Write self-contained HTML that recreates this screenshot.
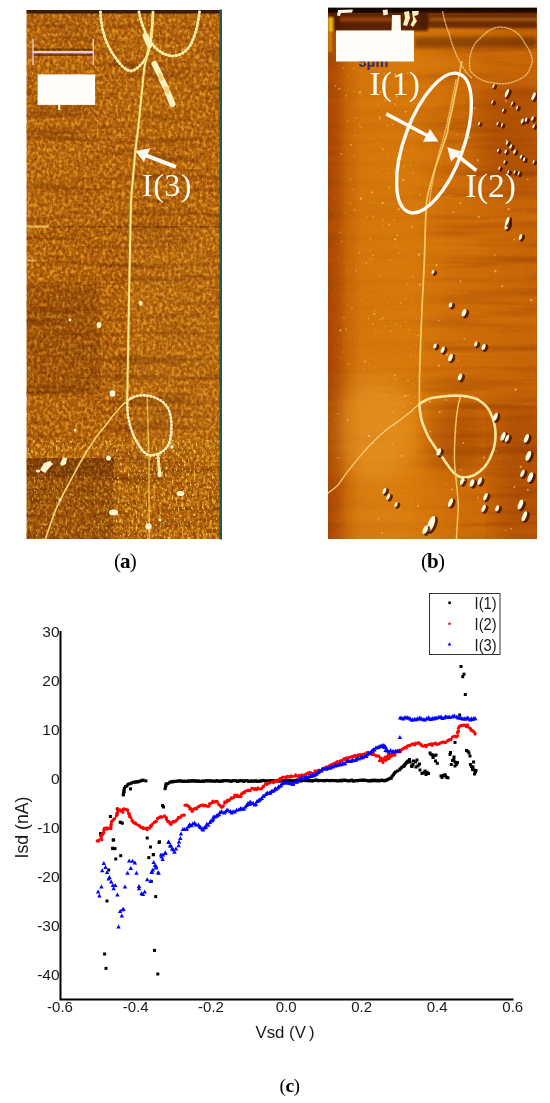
<!DOCTYPE html>
<html><head><meta charset="utf-8">
<style>
html,body{margin:0;padding:0;background:#fff;}
body{width:550px;height:1103px;overflow:hidden;position:relative;}
svg{position:absolute;left:0;top:0;display:block;}
.ser{font-family:"Liberation Serif",serif;}
.sans{font-family:"Liberation Sans",Arial,sans-serif;}
</style></head><body>
<svg width="550" height="1103" viewBox="0 0 550 1103">
<defs>
  <filter id="grainA" color-interpolation-filters="sRGB" x="0" y="0" width="100%" height="100%">
    <feTurbulence type="fractalNoise" baseFrequency="0.32 0.27" numOctaves="2" seed="3" result="n"/>
    <feColorMatrix in="n" type="matrix" values="0 0 0 0 0.88  0 0 0 0 0.58  0 0 0 0 0.13  3.0 0 0 0 -1.25" result="c"/>
    <feGaussianBlur in="c" stdDeviation="0.6"/>
  </filter>
  <filter id="grainA2" color-interpolation-filters="sRGB" x="0" y="0" width="100%" height="100%">
    <feTurbulence type="fractalNoise" baseFrequency="0.35 0.28" numOctaves="2" seed="11" result="n"/>
    <feColorMatrix in="n" type="matrix" values="0 0 0 0 0.5  0 0 0 0 0.22  0 0 0 0 0.02  2.2 0 0 0 -1.0" result="c"/>
    <feGaussianBlur in="c" stdDeviation="0.6"/>
  </filter>
  <filter id="specA2" color-interpolation-filters="sRGB" x="0" y="0" width="100%" height="100%">
    <feTurbulence type="fractalNoise" baseFrequency="0.5 0.3" numOctaves="2" seed="31" result="n"/>
    <feColorMatrix in="n" type="matrix" values="0 0 0 0 0.97  0 0 0 0 0.8  0 0 0 0 0.3  5 0 0 0 -2.9" result="c"/>
    <feGaussianBlur in="c" stdDeviation="0.5"/>
  </filter>
  <filter id="streakA" color-interpolation-filters="sRGB" x="0" y="0" width="100%" height="100%">
    <feTurbulence type="fractalNoise" baseFrequency="0.01 0.16" numOctaves="3" seed="17" result="n"/>
    <feColorMatrix in="n" type="matrix" values="0 0 0 0 0.4  0 0 0 0 0.15  0 0 0 0 0  1.4 0 0 0 -0.68" result="c"/>
  </filter>
  <filter id="specA" color-interpolation-filters="sRGB" x="0" y="0" width="100%" height="100%">
    <feTurbulence type="fractalNoise" baseFrequency="0.6" numOctaves="1" seed="23" result="n"/>
    <feColorMatrix in="n" type="matrix" values="0 0 0 0 1  0 0 0 0 0.78  0 0 0 0 0.3  8 0 0 0 -6.6" result="c"/>
    <feGaussianBlur in="c" stdDeviation="0.4"/>
  </filter>
  <filter id="grainB" color-interpolation-filters="sRGB" x="0" y="0" width="100%" height="100%">
    <feTurbulence type="fractalNoise" baseFrequency="0.006 0.09" numOctaves="3" seed="5" result="n"/>
    <feColorMatrix in="n" type="matrix" values="0 0 0 0 0.45  0 0 0 0 0.14  0 0 0 0 0  0.9 0 0 0 -0.42" result="c"/>
  </filter>
  <filter id="grainB3" color-interpolation-filters="sRGB" x="0" y="0" width="100%" height="100%">
    <feTurbulence type="fractalNoise" baseFrequency="0.008 0.12" numOctaves="2" seed="9" result="n"/>
    <feColorMatrix in="n" type="matrix" values="0 0 0 0 0.95  0 0 0 0 0.6  0 0 0 0 0.15  0.8 0 0 0 -0.45" result="c"/>
  </filter>
  <filter id="soft" color-interpolation-filters="sRGB" x="-20%" y="-20%" width="140%" height="140%"><feGaussianBlur stdDeviation="0.45"/></filter>
  <filter id="blur1" color-interpolation-filters="sRGB" x="-20%" y="-50%" width="140%" height="200%"><feGaussianBlur stdDeviation="1.2"/></filter>
  <filter id="blur2" color-interpolation-filters="sRGB" x="-20%" y="-50%" width="140%" height="200%"><feGaussianBlur stdDeviation="2.5"/></filter>
  <filter id="blur4" color-interpolation-filters="sRGB" x="-20%" y="-20%" width="140%" height="140%"><feGaussianBlur stdDeviation="12"/></filter>
  <filter id="grainB2" color-interpolation-filters="sRGB" x="0" y="0" width="100%" height="100%">
    <feTurbulence type="fractalNoise" baseFrequency="0.35 0.35" numOctaves="2" seed="21" result="n"/>
    <feColorMatrix in="n" type="matrix" values="0 0 0 0 0.98  0 0 0 0 0.68  0 0 0 0 0.25  1.6 0 0 0 -0.95" result="c"/>
    <feGaussianBlur in="c" stdDeviation="0.6"/>
  </filter>
  <linearGradient id="gbV" x1="0" y1="0" x2="0" y2="1">
    <stop offset="0" stop-color="#000" stop-opacity="0"/>
    <stop offset="1" stop-color="#000" stop-opacity="0"/>
  </linearGradient>
  <linearGradient id="gbH" x1="328" y1="0" x2="537" y2="0" gradientUnits="userSpaceOnUse">
    <stop offset="0" stop-color="#a84802"/>
    <stop offset="0.05" stop-color="#b45204"/>
    <stop offset="0.09" stop-color="#c66606"/>
    <stop offset="0.16" stop-color="#d4760a"/>
    <stop offset="0.4" stop-color="#d7790a"/>
    <stop offset="0.6" stop-color="#cf6e08"/>
    <stop offset="1" stop-color="#c66406"/>
  </linearGradient>
  <linearGradient id="gmB" x1="328" y1="0" x2="537" y2="0" gradientUnits="userSpaceOnUse">
    <stop offset="0" stop-color="#fff" stop-opacity="0.45"/>
    <stop offset="0.1" stop-color="#fff" stop-opacity="0.2"/>
    <stop offset="0.4" stop-color="#fff" stop-opacity="0.3"/>
    <stop offset="0.6" stop-color="#fff" stop-opacity="0.8"/>
    <stop offset="1" stop-color="#fff" stop-opacity="1"/>
  </linearGradient>
  <mask id="mB" maskUnits="userSpaceOnUse" x="328" y="0" width="210" height="540"><rect x="328" y="0" width="210" height="540" fill="url(#gmB)"/></mask>
  <clipPath id="cA"><rect x="26.5" y="10" width="195" height="529"/></clipPath>
  <clipPath id="cB"><rect x="328" y="7.5" width="209" height="531.5"/></clipPath>
</defs>

<!-- ============ PANEL A ============ -->
<g clip-path="url(#cA)">
  <rect x="26.5" y="10" width="195" height="529" fill="#ac5c08"/>
  <rect x="26.5" y="10" width="195" height="529" filter="url(#grainA2)"/>
  <rect x="26.5" y="10" width="195" height="529" filter="url(#grainA)"/>
  <rect x="26.5" y="10" width="195" height="529" filter="url(#streakA)"/>
  <rect x="26.5" y="10" width="195" height="529" filter="url(#specA)"/>
  <rect x="26.5" y="440" width="195" height="99" filter="url(#specA2)"/>
  <!-- darker blocks -->
  <rect x="26.5" y="14" width="195" height="208" fill="#ffb030" opacity="0.06"/>
  <rect x="26.5" y="282" width="74" height="112" fill="#4a1400" opacity="0.17"/>
  <rect x="132" y="228" width="88" height="230" fill="#ffc848" opacity="0.08"/>
  <rect x="26.5" y="458" width="87" height="81" fill="#4a1400" opacity="0.22"/>
  <rect x="26.5" y="458" width="87" height="18" fill="#3a1000" opacity="0.25"/>
  <rect x="48" y="226" width="173" height="1.6" fill="#4a1400" opacity="0.3"/>
  <rect x="26.5" y="225.5" width="22" height="2" fill="#f8d070" opacity="0.8"/>
  <rect x="26.5" y="259.5" width="10" height="2" fill="#f8d070" opacity="0.7"/>
  <rect x="26.5" y="10" width="195" height="3.5" fill="#3a1c04"/>
  <g fill="none" stroke-linecap="round" filter="url(#soft)">
    <!-- top loops -->
    <path d="M100.5 12 C101 30 106 45 115.8 58 C121 66 127 71 131 71 C137 70 142 64 146 58 C150 50 152 40 153 12" stroke="#f6e080" stroke-width="2"/>
    <path d="M100.5 12 C101 30 106 45 115.8 58 C121 66 127 71 131 71 C137 70 142 64 146 58 C150 50 152 40 153 12" stroke="#fcf0b0" stroke-width="3" stroke-dasharray="0.1 3.4"/>
    <path d="M139 12 C142 26 146 37 153 45 C158 51 165 55.5 172 56 C180 56 186 52 190.5 45 C195 36 198 25 199.5 12" stroke="#f6e080" stroke-width="2"/>
    <path d="M139 12 C142 26 146 37 153 45 C158 51 165 55.5 172 56 C180 56 186 52 190.5 45 C195 36 198 25 199.5 12" stroke="#fcf0b0" stroke-width="3" stroke-dasharray="0.1 3.4"/>
    <!-- main strand -->
    <path d="M152.9 12 L151.5 31.8 L149.3 43.5 L146.4 58 L144.2 68.2 L141.3 97.3 L138.4 126.4 L135.5 149.6 L131 200 L129 300 L127.2 400 L127 402" stroke="#f8d060" stroke-width="3.6" opacity="0.22"/>
    <path d="M152.9 12 L151.5 31.8 L149.3 43.5 L146.4 58 L144.2 68.2 L141.3 97.3 L138.4 126.4 L135.5 149.6 L131 200 L129 300 L127.2 400 L127 402" stroke="#fbe88a" stroke-width="1.9"/>
    <!-- bright bar -->
    <path d="M145.5 36 L149.5 45" stroke="#fbf0b8" stroke-width="6"/>
    <path d="M154.5 64 L160 75 M161.5 79 L166 88 M167.5 92 L172.5 104" stroke="#fcf2c0" stroke-width="6"/>
    <path d="M160 75 L161.5 79 M166 88 L167.5 92" stroke="#f0d070" stroke-width="4"/>
    <!-- bottom loop -->
    <path id="loopA" d="M127.6 400.3 C126 412 130 430 136.5 441.3 C141 450 146 455.5 151 455.5 C158 455 165 451 168.5 444.8 C172 437 173 420 168.5 409.2 C165 402 158 398 150 396 C142 394.5 135 395 127.6 400.3" stroke="#f6e0a0" stroke-width="1.8"/>
    <path d="M127.6 400.3 C126 412 130 430 136.5 441.3 C141 450 146 455.5 151 455.5 C158 455 165 451 168.5 444.8 C172 437 173 420 168.5 409.2 C165 402 158 398 150 396 C142 394.5 135 395 127.6 400.3" stroke="#fcf0c0" stroke-width="2.9" stroke-dasharray="0.1 3.4"/>
    <!-- long strand bottom-left -->
    <path d="M45 540 L54.5 512.6 C60 500 64 492 68.8 484 C75 472 80 462 86.6 452 C92 443 98 434 104.4 427 C110 419 114 414 118.7 409.2 C122 405 125 402 129.3 400.3" stroke="#f4d468" stroke-width="1.6"/>
    <!-- inner vertical -->
    <path d="M147.2 396.7 L149 459 L149 494.7 L149.5 540" stroke="#f0cc58" stroke-width="1.4" opacity="0.8"/>
    <path d="M158 455 L159.6 473" stroke="#fcf0c0" stroke-width="3.4" stroke-dasharray="0.1 3"/>
    <path d="M158 455 L159.6 473" stroke="#f6e6a0" stroke-width="2"/>
  </g>
  <!-- blobs -->
  <g fill="#fdf4d0" filter="url(#soft)">
    <ellipse cx="112.5" cy="393.5" rx="2.8" ry="3.2"/>
    <path d="M40 470 L44 463 L50 461 L53 464 L49 468 L45 473 Z"/>
    <ellipse cx="38" cy="471" rx="2.2" ry="1.6"/>
    <path d="M60 464 L63 457.5 L67 458 L66 464 L62 466 Z"/>
    <ellipse cx="108.5" cy="458" rx="2.4" ry="2.6"/>
    <ellipse cx="113.5" cy="512.5" rx="4.5" ry="3"/>
    <ellipse cx="180.5" cy="493.5" rx="4" ry="2.6"/>
    <ellipse cx="148.5" cy="526.5" rx="3.2" ry="3.2"/>
    <ellipse cx="159.6" cy="474" rx="2.2" ry="3.2"/>
    <ellipse cx="99" cy="325" rx="2.4" ry="3"/>
    <ellipse cx="140.8" cy="303.4" rx="1.8" ry="2.4"/>
    <ellipse cx="172" cy="447" rx="1.8" ry="1.8"/>
    <ellipse cx="160" cy="520" rx="1.5" ry="1.5"/>
    <ellipse cx="60" cy="500" rx="1.5" ry="1.5"/>
    <ellipse cx="75" cy="430" rx="1.3" ry="1.3"/>
    <ellipse cx="70" cy="320" rx="1.4" ry="1.4"/>
  </g>
  <!-- scale bar -->
  <rect x="32.5" y="48.5" width="61" height="2" fill="#3a1400" opacity="0.6"/>
  <rect x="32.5" y="54" width="61" height="2" fill="#3a1400" opacity="0.5"/>
  <rect x="32.5" y="51" width="61" height="2.2" fill="#ecccd4"/>
  <rect x="32.3" y="38.7" width="1.4" height="26.3" fill="#e6c4cc"/>
  <rect x="92.6" y="38.7" width="1.4" height="26.3" fill="#e6c4cc"/>
  <!-- white rect -->
  <rect x="37.6" y="74.4" width="57.5" height="30.5" fill="#fffefa"/>
  <rect x="58.2" y="104" width="2" height="6" fill="#fff6e0"/>
  <!-- arrow + label -->
  <path d="M175.9 166.9 L146 155.4" stroke="#fcfcf4" stroke-width="4" stroke-linecap="butt"/>
  <path d="M135.2 150.9 L150.5 148.2 L143.9 162 Z" fill="#fcfcf4"/>
  <text class="ser" x="142" y="195.6" font-size="32" fill="#fdfaf0" letter-spacing="0.5">I(3)</text>
</g>
<rect x="219.5" y="9.5" width="2.5" height="530" fill="#1f5a50"/>

<!-- ============ PANEL B ============ -->
<g clip-path="url(#cB)">
  <rect x="328" y="7.5" width="209" height="531.5" fill="url(#gbH)"/>
  <rect x="328" y="7.5" width="209" height="531.5" fill="url(#gbV)"/>
  <rect x="328" y="7.5" width="209" height="531.5" filter="url(#grainB)" mask="url(#mB)"/>
  <rect x="328" y="7.5" width="209" height="531.5" filter="url(#grainB3)" mask="url(#mB)"/>
  <rect x="328" y="7.5" width="209" height="531.5" filter="url(#grainB2)" opacity="0.35"/>
  <rect x="478" y="85" width="65" height="100" fill="#7a2000" opacity="0.3" filter="url(#blur4)"/>
  <ellipse cx="458" cy="437" rx="30" ry="34" fill="#7a2000" opacity="0.3" filter="url(#blur4)"/>
  <rect x="495" y="400" width="50" height="139" fill="#7a2000" opacity="0.3" filter="url(#blur4)"/>
  <!-- lower-left lighter diagonal region -->
  <ellipse cx="375" cy="430" rx="40" ry="55" fill="#f8b440" opacity="0.35" filter="url(#blur4)"/>
  <ellipse cx="380" cy="515" rx="40" ry="25" fill="#f0a030" opacity="0.2" filter="url(#blur4)"/>
  <!-- top dark bands -->
  <rect x="328" y="7.5" width="209" height="5.5" fill="#120600"/>
  <rect x="328" y="12" width="100" height="19" fill="#3c1000" opacity="0.8" filter="url(#blur1)"/>
  <rect x="420" y="11" width="117" height="17" fill="#4a1800" opacity="0.7" filter="url(#blur1)"/>
  <rect x="430" y="18" width="107" height="3" fill="#f0a030" opacity="0.35" filter="url(#blur1)"/>
  <rect x="414" y="37" width="123" height="11" fill="#4a1800" opacity="0.5" filter="url(#blur2)"/>
  <rect x="328" y="17" width="5.5" height="15" fill="#f8c010" opacity="0.95" filter="url(#blur1)"/>
  <rect x="328" y="32" width="4" height="20" fill="#e8a010" opacity="0.6" filter="url(#blur1)"/>
  <!-- top white bits -->
  <rect x="340" y="17" width="60" height="5" fill="#c05010" opacity="0.55" filter="url(#blur1)"/>
  <g fill="#fff8ee" filter="url(#soft)">
    <path d="M338 10 L353 9.5 L352 12.5 L341 13 L340 16 L337 15.5 Z"/>
    <path d="M382.5 10 L387.5 9.5 L388 14.5 L383.5 15.5 Z" fill="#fff0c8"/>
    <path d="M392 15 L400.5 15 L401 31 L391.5 31 Z"/>
    <path d="M404 12 L409 11 L410 18 L407 26 L403 25 L405 18 Z" fill="#fff2c0"/>
    <path d="M412 11 L419 11 L418 15 L414 16 L417 21 L413 27 L410.5 25 L413 20 Z" fill="#fff0b8"/>
  </g>
  <!-- 5um text (partly hidden) -->
  <text x="358.5" y="66.5" font-family="Liberation Sans, sans-serif" font-size="14.5" font-weight="bold" fill="#28206a" opacity="0.9">5μm</text>
  <!-- white rect -->
  <rect x="336" y="30.5" width="78" height="31" fill="#fffefa"/>
  <g fill="none" stroke-linecap="round" filter="url(#soft)">
    <!-- top right loop & curve -->
    <path d="M442.7 11.7 C445 25 449 32 450.5 38.9 C454 50 457 57 460.2 62.3 C464 70 468 75 472 77.8" stroke="#f8d088" stroke-width="1.5" stroke-dasharray="1.5 1.6" opacity="0.7"/>
    <path d="M470 70 C468 58 472 44 479.7 38.9 C485 33 490 29 497.2 27.2 C510 26 520 33 524.4 42.8 C530 50 533 58 532.2 62.3 C530 70 527 75 522.5 77.8 C515 82 508 84 501 83.7 C492 83 486 82 481.6 79.8 C476 77 472 74 470 70" stroke="#f8d088" stroke-width="1.5" stroke-dasharray="1.5 1.6" opacity="0.7"/>
    <!-- main strand -->
    <path d="M461.8 62 C458 80 455 95 452 110 C449 122 448 128 447.3 132.7 C445 140 443 146 441.5 150 C438 160 435 168 432.7 176.4 C430 186 428 193 426.9 199.6 C425.5 215 425.5 225 425 240 C424.5 260 423.5 280 422.5 297 C421 330 420 360 419.4 380 L419.4 404" stroke="#f8c860" stroke-width="1.8" stroke-dasharray="2 0.7"/>
    <path d="M456 80 C452 100 449 115 446 128 C443 140 439 152 436 165 C433 178 431 190 429 205" stroke="#f6cc80" stroke-width="1.4" stroke-dasharray="1.5 1.5" opacity="0.8"/>
    <!-- bottom loop -->
    <path d="M419.4 404 C425 400 430 398 435 397.5 C445 396 452 395.5 458.3 395.6 C466 396 472 397 477.8 399.5 C483 403 487 406 489.4 411 C493 418 495 424 495.3 430.6 C496 437 495 444 493.3 450 C491 456 489 461 485.5 465.6 C482 470 478 473 473.9 475.3 C470 477 466 477.5 462.2 477.3 C459 477 457 475.5 454.4 473.4 C451 470 449 467 446.6 463.7 C443 458 440 454 436.9 450 C433 444 430 440 427.2 434.5 C424.5 428 422.5 424 421.3 418.9 C420 412 419.5 408 419.4 404" stroke="#fce6a0" stroke-width="2.6" stroke-dasharray="2.2 0.9"/>
    <path d="M460.2 397.5 C458 405 457 412 456.3 418.9 C455 432 454.5 445 454.4 457.8 C454.5 466 455.5 474 456.3 481.2 C457 490 457.8 497 458.3 504.5 C458 515 457 528 456.3 540" stroke="#f8cc70" stroke-width="1.5" stroke-dasharray="1.6 1.1"/>
    <!-- long strand -->
    <path d="M328 493 C332 490 335 488 338 485 C342 480 346 473 349.3 469.5 C356 461 364 451 372.7 442.3 C380 435 388 428 396 422.8 C402 419 407 414 411.6 411.1 C414 408 417 406 419.4 404" stroke="#f8cc70" stroke-width="1.4" stroke-dasharray="1.6 1.2"/>
  </g>
  <!-- blobs (white with dark shadow) -->
  <g id="blobsB"><ellipse cx="508.9" cy="226.5" rx="2.7" ry="5.2" fill="#3a0800" opacity="0.75" transform="rotate(22 508.9 226.5)"/><ellipse cx="507.0" cy="225.3" rx="1.9" ry="4.5" fill="#fffbe0" transform="rotate(22 507.0 225.3)"/><ellipse cx="522.4" cy="238.2" rx="2.3" ry="3.8" fill="#3a0800" opacity="0.75" transform="rotate(22 522.4 238.2)"/><ellipse cx="520.5" cy="237.0" rx="1.5" ry="3.1" fill="#fffbe0" transform="rotate(22 520.5 237.0)"/><ellipse cx="434.9" cy="273.2" rx="2.0" ry="2.7" fill="#3a0800" opacity="0.75" transform="rotate(22 434.9 273.2)"/><ellipse cx="433.0" cy="272.0" rx="1.3" ry="2.0" fill="#fffbe0" transform="rotate(22 433.0 272.0)"/><ellipse cx="452.4" cy="306.2" rx="2.5" ry="3.3" fill="#3a0800" opacity="0.75" transform="rotate(22 452.4 306.2)"/><ellipse cx="450.5" cy="305.0" rx="1.7" ry="2.6" fill="#fffbe0" transform="rotate(22 450.5 305.0)"/><ellipse cx="465.9" cy="314.0" rx="2.9" ry="4.6" fill="#3a0800" opacity="0.75" transform="rotate(22 465.9 314.0)"/><ellipse cx="464.0" cy="312.8" rx="2.0" ry="3.9" fill="#fffbe0" transform="rotate(22 464.0 312.8)"/><ellipse cx="436.9" cy="347.2" rx="2.3" ry="3.3" fill="#3a0800" opacity="0.75" transform="rotate(22 436.9 347.2)"/><ellipse cx="435.0" cy="346.0" rx="1.5" ry="2.6" fill="#fffbe0" transform="rotate(22 435.0 346.0)"/><ellipse cx="444.6" cy="351.0" rx="2.5" ry="4.0" fill="#3a0800" opacity="0.75" transform="rotate(22 444.6 351.0)"/><ellipse cx="442.7" cy="349.8" rx="1.7" ry="3.2" fill="#fffbe0" transform="rotate(22 442.7 349.8)"/><ellipse cx="452.4" cy="358.8" rx="2.7" ry="4.6" fill="#3a0800" opacity="0.75" transform="rotate(22 452.4 358.8)"/><ellipse cx="450.5" cy="357.6" rx="1.9" ry="3.9" fill="#fffbe0" transform="rotate(22 450.5 357.6)"/><ellipse cx="477.7" cy="345.2" rx="2.3" ry="3.3" fill="#3a0800" opacity="0.75" transform="rotate(22 477.7 345.2)"/><ellipse cx="475.8" cy="344.0" rx="1.5" ry="2.6" fill="#fffbe0" transform="rotate(22 475.8 344.0)"/><ellipse cx="485.5" cy="348.2" rx="2.5" ry="4.0" fill="#3a0800" opacity="0.75" transform="rotate(22 485.5 348.2)"/><ellipse cx="483.6" cy="347.0" rx="1.7" ry="3.2" fill="#fffbe0" transform="rotate(22 483.6 347.0)"/><ellipse cx="461.9" cy="378.2" rx="2.7" ry="4.3" fill="#3a0800" opacity="0.75" transform="rotate(22 461.9 378.2)"/><ellipse cx="460.0" cy="377.0" rx="1.9" ry="3.6" fill="#fffbe0" transform="rotate(22 460.0 377.0)"/><ellipse cx="497.2" cy="418.2" rx="2.7" ry="5.2" fill="#3a0800" opacity="0.75" transform="rotate(22 497.2 418.2)"/><ellipse cx="495.3" cy="417.0" rx="1.9" ry="4.5" fill="#fffbe0" transform="rotate(22 495.3 417.0)"/><ellipse cx="504.9" cy="437.6" rx="2.9" ry="5.2" fill="#3a0800" opacity="0.75" transform="rotate(22 504.9 437.6)"/><ellipse cx="503.0" cy="436.4" rx="2.0" ry="4.5" fill="#fffbe0" transform="rotate(22 503.0 436.4)"/><ellipse cx="508.9" cy="439.6" rx="2.5" ry="4.6" fill="#3a0800" opacity="0.75" transform="rotate(22 508.9 439.6)"/><ellipse cx="507.0" cy="438.4" rx="1.7" ry="3.9" fill="#fffbe0" transform="rotate(22 507.0 438.4)"/><ellipse cx="528.3" cy="439.6" rx="2.9" ry="5.2" fill="#3a0800" opacity="0.75" transform="rotate(22 528.3 439.6)"/><ellipse cx="526.4" cy="438.4" rx="2.0" ry="4.5" fill="#fffbe0" transform="rotate(22 526.4 438.4)"/><ellipse cx="530.2" cy="457.1" rx="3.0" ry="5.9" fill="#3a0800" opacity="0.75" transform="rotate(22 530.2 457.1)"/><ellipse cx="528.3" cy="455.9" rx="2.2" ry="5.2" fill="#fffbe0" transform="rotate(22 528.3 455.9)"/><ellipse cx="532.2" cy="478.5" rx="3.0" ry="5.9" fill="#3a0800" opacity="0.75" transform="rotate(22 532.2 478.5)"/><ellipse cx="530.3" cy="477.3" rx="2.2" ry="5.2" fill="#fffbe0" transform="rotate(22 530.3 477.3)"/><ellipse cx="524.4" cy="474.6" rx="2.5" ry="4.6" fill="#3a0800" opacity="0.75" transform="rotate(22 524.4 474.6)"/><ellipse cx="522.5" cy="473.4" rx="1.7" ry="3.9" fill="#fffbe0" transform="rotate(22 522.5 473.4)"/><ellipse cx="440.7" cy="453.2" rx="2.7" ry="4.6" fill="#3a0800" opacity="0.75" transform="rotate(22 440.7 453.2)"/><ellipse cx="438.8" cy="452.0" rx="1.9" ry="3.9" fill="#fffbe0" transform="rotate(22 438.8 452.0)"/><ellipse cx="464.1" cy="482.4" rx="2.5" ry="4.6" fill="#3a0800" opacity="0.75" transform="rotate(22 464.1 482.4)"/><ellipse cx="462.2" cy="481.2" rx="1.7" ry="3.9" fill="#fffbe0" transform="rotate(22 462.2 481.2)"/><ellipse cx="473.9" cy="484.2" rx="2.9" ry="4.6" fill="#3a0800" opacity="0.75" transform="rotate(22 473.9 484.2)"/><ellipse cx="472.0" cy="483.0" rx="2.0" ry="3.9" fill="#fffbe0" transform="rotate(22 472.0 483.0)"/><ellipse cx="481.6" cy="482.4" rx="2.5" ry="4.6" fill="#3a0800" opacity="0.75" transform="rotate(22 481.6 482.4)"/><ellipse cx="479.7" cy="481.2" rx="1.7" ry="3.9" fill="#fffbe0" transform="rotate(22 479.7 481.2)"/><ellipse cx="487.4" cy="497.9" rx="2.5" ry="4.6" fill="#3a0800" opacity="0.75" transform="rotate(22 487.4 497.9)"/><ellipse cx="485.5" cy="496.7" rx="1.7" ry="3.9" fill="#fffbe0" transform="rotate(22 485.5 496.7)"/><ellipse cx="485.5" cy="509.6" rx="2.5" ry="4.6" fill="#3a0800" opacity="0.75" transform="rotate(22 485.5 509.6)"/><ellipse cx="483.6" cy="508.4" rx="1.7" ry="3.9" fill="#fffbe0" transform="rotate(22 483.6 508.4)"/><ellipse cx="452.4" cy="503.8" rx="2.7" ry="5.2" fill="#3a0800" opacity="0.75" transform="rotate(22 452.4 503.8)"/><ellipse cx="450.5" cy="502.6" rx="1.9" ry="4.5" fill="#fffbe0" transform="rotate(22 450.5 502.6)"/><ellipse cx="432.9" cy="525.2" rx="3.9" ry="9.2" fill="#3a0800" opacity="0.75" transform="rotate(22 432.9 525.2)"/><ellipse cx="431.0" cy="524.0" rx="3.1" ry="8.5" fill="#fffbe0" transform="rotate(22 431.0 524.0)"/><ellipse cx="427.1" cy="531.0" rx="3.0" ry="5.2" fill="#3a0800" opacity="0.75" transform="rotate(22 427.1 531.0)"/><ellipse cx="425.2" cy="529.8" rx="2.2" ry="4.5" fill="#fffbe0" transform="rotate(22 425.2 529.8)"/><ellipse cx="522.4" cy="505.7" rx="3.0" ry="5.9" fill="#3a0800" opacity="0.75" transform="rotate(22 522.4 505.7)"/><ellipse cx="520.5" cy="504.5" rx="2.2" ry="5.2" fill="#fffbe0" transform="rotate(22 520.5 504.5)"/><ellipse cx="526.3" cy="517.4" rx="2.9" ry="5.9" fill="#3a0800" opacity="0.75" transform="rotate(22 526.3 517.4)"/><ellipse cx="524.4" cy="516.2" rx="2.0" ry="5.2" fill="#fffbe0" transform="rotate(22 524.4 516.2)"/><ellipse cx="499.1" cy="509.6" rx="2.5" ry="4.0" fill="#3a0800" opacity="0.75" transform="rotate(22 499.1 509.6)"/><ellipse cx="497.2" cy="508.4" rx="1.7" ry="3.2" fill="#fffbe0" transform="rotate(22 497.2 508.4)"/><ellipse cx="386.3" cy="492.2" rx="2.3" ry="4.0" fill="#3a0800" opacity="0.75" transform="rotate(22 386.3 492.2)"/><ellipse cx="384.4" cy="491.0" rx="1.5" ry="3.2" fill="#fffbe0" transform="rotate(22 384.4 491.0)"/><ellipse cx="390.2" cy="497.9" rx="2.3" ry="4.0" fill="#3a0800" opacity="0.75" transform="rotate(22 390.2 497.9)"/><ellipse cx="388.3" cy="496.7" rx="1.5" ry="3.2" fill="#fffbe0" transform="rotate(22 388.3 496.7)"/><ellipse cx="397.9" cy="505.7" rx="2.1" ry="3.3" fill="#3a0800" opacity="0.75" transform="rotate(22 397.9 505.7)"/><ellipse cx="396.0" cy="504.5" rx="1.4" ry="2.6" fill="#fffbe0" transform="rotate(22 396.0 504.5)"/><ellipse cx="509.2" cy="222.3" rx="2.3" ry="5.2" fill="#3a0800" opacity="0.75" transform="rotate(22 509.2 222.3)"/><ellipse cx="507.3" cy="221.1" rx="1.5" ry="4.5" fill="#fffbe0" transform="rotate(22 507.3 221.1)"/><ellipse cx="508.8" cy="94.3" rx="2.1" ry="5.1" fill="#3a0800" opacity="0.75" transform="rotate(22 508.8 94.3)"/><ellipse cx="506.9" cy="93.1" rx="1.4" ry="4.4" fill="#fffbe0" transform="rotate(22 506.9 93.1)"/><ellipse cx="535.5" cy="97.5" rx="2.3" ry="4.9" fill="#3a0800" opacity="0.75" transform="rotate(22 535.5 97.5)"/><ellipse cx="533.6" cy="96.3" rx="1.5" ry="4.2" fill="#fffbe0" transform="rotate(22 533.6 96.3)"/><ellipse cx="495.4" cy="87.2" rx="1.6" ry="2.8" fill="#3a0800" opacity="0.75" transform="rotate(22 495.4 87.2)"/><ellipse cx="493.5" cy="86.0" rx="0.8" ry="2.1" fill="#fffbe0" transform="rotate(22 493.5 86.0)"/><ellipse cx="494.2" cy="103.2" rx="1.6" ry="2.5" fill="#3a0800" opacity="0.75" transform="rotate(22 494.2 103.2)"/><ellipse cx="492.3" cy="102.0" rx="0.8" ry="1.8" fill="#fffbe0" transform="rotate(22 492.3 102.0)"/><ellipse cx="513.9" cy="104.5" rx="1.6" ry="2.7" fill="#3a0800" opacity="0.75" transform="rotate(22 513.9 104.5)"/><ellipse cx="512.0" cy="103.3" rx="0.8" ry="2.0" fill="#fffbe0" transform="rotate(22 512.0 103.3)"/><ellipse cx="518.9" cy="108.9" rx="1.6" ry="2.7" fill="#3a0800" opacity="0.75" transform="rotate(22 518.9 108.9)"/><ellipse cx="517.0" cy="107.7" rx="0.8" ry="2.0" fill="#fffbe0" transform="rotate(22 517.0 107.7)"/><ellipse cx="504.9" cy="111.5" rx="1.6" ry="2.5" fill="#3a0800" opacity="0.75" transform="rotate(22 504.9 111.5)"/><ellipse cx="503.0" cy="110.3" rx="0.8" ry="1.8" fill="#fffbe0" transform="rotate(22 503.0 110.3)"/><ellipse cx="524.1" cy="122.2" rx="2.0" ry="3.3" fill="#3a0800" opacity="0.75" transform="rotate(22 524.1 122.2)"/><ellipse cx="522.2" cy="121.0" rx="1.2" ry="2.6" fill="#fffbe0" transform="rotate(22 522.2 121.0)"/><ellipse cx="527.9" cy="121.0" rx="1.9" ry="3.0" fill="#3a0800" opacity="0.75" transform="rotate(22 527.9 121.0)"/><ellipse cx="526.0" cy="119.8" rx="1.1" ry="2.3" fill="#fffbe0" transform="rotate(22 526.0 119.8)"/><ellipse cx="534.3" cy="119.7" rx="1.9" ry="3.0" fill="#3a0800" opacity="0.75" transform="rotate(22 534.3 119.7)"/><ellipse cx="532.4" cy="118.5" rx="1.1" ry="2.3" fill="#fffbe0" transform="rotate(22 532.4 118.5)"/><ellipse cx="535.5" cy="127.4" rx="1.8" ry="2.8" fill="#3a0800" opacity="0.75" transform="rotate(22 535.5 127.4)"/><ellipse cx="533.6" cy="126.2" rx="1.0" ry="2.1" fill="#fffbe0" transform="rotate(22 533.6 126.2)"/><ellipse cx="499.3" cy="124.8" rx="1.6" ry="2.5" fill="#3a0800" opacity="0.75" transform="rotate(22 499.3 124.8)"/><ellipse cx="497.4" cy="123.6" rx="0.8" ry="1.8" fill="#fffbe0" transform="rotate(22 497.4 123.6)"/><ellipse cx="503.7" cy="126.2" rx="1.6" ry="2.5" fill="#3a0800" opacity="0.75" transform="rotate(22 503.7 126.2)"/><ellipse cx="501.8" cy="125.0" rx="0.8" ry="1.8" fill="#fffbe0" transform="rotate(22 501.8 125.0)"/><ellipse cx="480.9" cy="124.8" rx="1.5" ry="2.3" fill="#3a0800" opacity="0.75" transform="rotate(22 480.9 124.8)"/><ellipse cx="479.0" cy="123.6" rx="0.8" ry="1.6" fill="#fffbe0" transform="rotate(22 479.0 123.6)"/><ellipse cx="508.9" cy="143.9" rx="1.8" ry="2.8" fill="#3a0800" opacity="0.75" transform="rotate(22 508.9 143.9)"/><ellipse cx="507.0" cy="142.7" rx="1.0" ry="2.1" fill="#fffbe0" transform="rotate(22 507.0 142.7)"/><ellipse cx="512.6" cy="147.7" rx="1.9" ry="3.0" fill="#3a0800" opacity="0.75" transform="rotate(22 512.6 147.7)"/><ellipse cx="510.7" cy="146.5" rx="1.1" ry="2.3" fill="#fffbe0" transform="rotate(22 510.7 146.5)"/><ellipse cx="507.5" cy="152.8" rx="1.8" ry="2.8" fill="#3a0800" opacity="0.75" transform="rotate(22 507.5 152.8)"/><ellipse cx="505.6" cy="151.6" rx="1.0" ry="2.1" fill="#fffbe0" transform="rotate(22 505.6 151.6)"/><ellipse cx="516.4" cy="152.8" rx="1.9" ry="3.0" fill="#3a0800" opacity="0.75" transform="rotate(22 516.4 152.8)"/><ellipse cx="514.5" cy="151.6" rx="1.1" ry="2.3" fill="#fffbe0" transform="rotate(22 514.5 151.6)"/><ellipse cx="522.9" cy="157.9" rx="1.8" ry="2.8" fill="#3a0800" opacity="0.75" transform="rotate(22 522.9 157.9)"/><ellipse cx="521.0" cy="156.7" rx="1.0" ry="2.1" fill="#fffbe0" transform="rotate(22 521.0 156.7)"/><ellipse cx="525.9" cy="160.5" rx="1.8" ry="2.8" fill="#3a0800" opacity="0.75" transform="rotate(22 525.9 160.5)"/><ellipse cx="524.0" cy="159.3" rx="1.0" ry="2.1" fill="#fffbe0" transform="rotate(22 524.0 159.3)"/><ellipse cx="499.9" cy="151.6" rx="1.6" ry="2.4" fill="#3a0800" opacity="0.75" transform="rotate(22 499.9 151.6)"/><ellipse cx="498.0" cy="150.4" rx="0.8" ry="1.7" fill="#fffbe0" transform="rotate(22 498.0 150.4)"/><ellipse cx="506.3" cy="163.0" rx="1.6" ry="2.4" fill="#3a0800" opacity="0.75" transform="rotate(22 506.3 163.0)"/><ellipse cx="504.4" cy="161.8" rx="0.8" ry="1.7" fill="#fffbe0" transform="rotate(22 504.4 161.8)"/><ellipse cx="520.3" cy="174.5" rx="1.8" ry="2.8" fill="#3a0800" opacity="0.75" transform="rotate(22 520.3 174.5)"/><ellipse cx="518.4" cy="173.3" rx="1.0" ry="2.1" fill="#fffbe0" transform="rotate(22 518.4 173.3)"/><ellipse cx="516.4" cy="173.2" rx="1.6" ry="2.5" fill="#3a0800" opacity="0.75" transform="rotate(22 516.4 173.2)"/><ellipse cx="514.5" cy="172.0" rx="0.8" ry="1.8" fill="#fffbe0" transform="rotate(22 514.5 172.0)"/><ellipse cx="510.1" cy="173.2" rx="1.6" ry="2.5" fill="#3a0800" opacity="0.75" transform="rotate(22 510.1 173.2)"/><ellipse cx="508.2" cy="172.0" rx="0.8" ry="1.8" fill="#fffbe0" transform="rotate(22 508.2 172.0)"/><ellipse cx="501.2" cy="169.4" rx="1.6" ry="2.4" fill="#3a0800" opacity="0.75" transform="rotate(22 501.2 169.4)"/><ellipse cx="499.3" cy="168.2" rx="0.8" ry="1.7" fill="#fffbe0" transform="rotate(22 499.3 168.2)"/><ellipse cx="535.5" cy="163.0" rx="1.6" ry="2.5" fill="#3a0800" opacity="0.75" transform="rotate(22 535.5 163.0)"/><ellipse cx="533.6" cy="161.8" rx="0.8" ry="1.8" fill="#fffbe0" transform="rotate(22 533.6 161.8)"/><circle cx="382.6" cy="318.5" r="0.9" fill="#f8d070" opacity="0.6"/><circle cx="455.8" cy="357.2" r="0.7" fill="#f8d070" opacity="0.6"/><circle cx="337.6" cy="457.8" r="0.8" fill="#f8d070" opacity="0.6"/><circle cx="381.9" cy="532.9" r="0.9" fill="#f8d070" opacity="0.6"/><circle cx="502.3" cy="286.3" r="1.0" fill="#f8d070" opacity="0.6"/><circle cx="365.1" cy="361.6" r="1.1" fill="#f8d070" opacity="0.6"/><circle cx="439.6" cy="412.1" r="1.0" fill="#f8d070" opacity="0.6"/><circle cx="347.8" cy="420.2" r="1.0" fill="#f8d070" opacity="0.6"/><circle cx="395.3" cy="74.7" r="1.1" fill="#f8d070" opacity="0.6"/><circle cx="429.5" cy="401.4" r="1.1" fill="#f8d070" opacity="0.6"/><circle cx="477.8" cy="497.5" r="0.9" fill="#f8d070" opacity="0.6"/><circle cx="495.2" cy="271.2" r="1.2" fill="#f8d070" opacity="0.6"/><circle cx="510.8" cy="106.3" r="0.8" fill="#f8d070" opacity="0.6"/><circle cx="378.4" cy="518.6" r="0.9" fill="#f8d070" opacity="0.6"/><circle cx="460.3" cy="203.0" r="1.0" fill="#f8d070" opacity="0.6"/><circle cx="412.2" cy="226.7" r="1.0" fill="#f8d070" opacity="0.6"/><circle cx="451.9" cy="489.5" r="1.0" fill="#f8d070" opacity="0.6"/><circle cx="520.8" cy="466.8" r="1.2" fill="#f8d070" opacity="0.6"/><circle cx="469.3" cy="137.5" r="1.1" fill="#f8d070" opacity="0.6"/><circle cx="527.9" cy="489.7" r="1.0" fill="#f8d070" opacity="0.6"/><circle cx="477.8" cy="160.3" r="1.1" fill="#f8d070" opacity="0.6"/><circle cx="449.7" cy="195.4" r="0.7" fill="#f8d070" opacity="0.6"/><circle cx="505.8" cy="530.2" r="0.7" fill="#f8d070" opacity="0.6"/><circle cx="495.1" cy="255.0" r="0.8" fill="#f8d070" opacity="0.6"/><circle cx="393.8" cy="425.2" r="1.1" fill="#f8d070" opacity="0.6"/><circle cx="343.8" cy="351.9" r="0.7" fill="#f8d070" opacity="0.6"/><circle cx="478.7" cy="217.2" r="1.1" fill="#f8d070" opacity="0.6"/><circle cx="531.1" cy="300.1" r="1.2" fill="#f8d070" opacity="0.6"/><circle cx="396.9" cy="96.6" r="1.0" fill="#f8d070" opacity="0.6"/><circle cx="341.3" cy="153.8" r="0.9" fill="#f8d070" opacity="0.6"/><circle cx="457.1" cy="134.2" r="0.7" fill="#f8d070" opacity="0.6"/><circle cx="508.6" cy="209.1" r="1.2" fill="#f8d070" opacity="0.6"/><circle cx="514.3" cy="239.4" r="0.9" fill="#f8d070" opacity="0.6"/><circle cx="439.0" cy="365.8" r="1.0" fill="#f8d070" opacity="0.6"/><circle cx="446.9" cy="354.6" r="1.2" fill="#f8d070" opacity="0.6"/><circle cx="436.4" cy="264.8" r="1.1" fill="#f8d070" opacity="0.6"/><circle cx="382.5" cy="203.0" r="1.2" fill="#f8d070" opacity="0.6"/><circle cx="439.2" cy="320.5" r="0.7" fill="#f8d070" opacity="0.6"/><circle cx="418.0" cy="335.5" r="0.7" fill="#f8d070" opacity="0.6"/><circle cx="458.2" cy="360.3" r="0.7" fill="#f8d070" opacity="0.6"/><circle cx="460.5" cy="281.5" r="1.0" fill="#f8d070" opacity="0.6"/><circle cx="405.5" cy="395.8" r="1.1" fill="#f8d070" opacity="0.6"/><circle cx="339.4" cy="88.8" r="1.0" fill="#f8d070" opacity="0.6"/><circle cx="527.7" cy="179.3" r="0.9" fill="#f8d070" opacity="0.6"/><circle cx="453.5" cy="212.0" r="0.9" fill="#f8d070" opacity="0.6"/><circle cx="397.5" cy="235.3" r="1.0" fill="#f8d070" opacity="0.6"/><circle cx="395.1" cy="239.2" r="1.1" fill="#f8d070" opacity="0.6"/><circle cx="340.4" cy="330.4" r="1.1" fill="#f8d070" opacity="0.6"/><circle cx="397.0" cy="165.7" r="1.1" fill="#f8d070" opacity="0.6"/><circle cx="382.7" cy="149.0" r="0.9" fill="#f8d070" opacity="0.6"/><circle cx="474.6" cy="108.4" r="0.9" fill="#f8d070" opacity="0.6"/><circle cx="401.8" cy="455.9" r="0.9" fill="#f8d070" opacity="0.6"/><circle cx="506.1" cy="140.4" r="0.9" fill="#f8d070" opacity="0.6"/><circle cx="465.0" cy="480.3" r="0.9" fill="#f8d070" opacity="0.6"/><circle cx="380.0" cy="117.4" r="1.0" fill="#f8d070" opacity="0.6"/><circle cx="373.2" cy="443.2" r="1.1" fill="#f8d070" opacity="0.6"/><circle cx="371.7" cy="192.3" r="1.1" fill="#f8d070" opacity="0.6"/><circle cx="463.4" cy="443.0" r="0.9" fill="#f8d070" opacity="0.6"/><circle cx="360.9" cy="198.7" r="1.1" fill="#f8d070" opacity="0.6"/><circle cx="389.2" cy="224.5" r="0.9" fill="#f8d070" opacity="0.6"/><circle cx="419.0" cy="254.5" r="1.2" fill="#f8d070" opacity="0.6"/><circle cx="366.2" cy="62.2" r="1.2" fill="#f8d070" opacity="0.6"/><circle cx="511.0" cy="528.8" r="0.9" fill="#f8d070" opacity="0.6"/><circle cx="525.0" cy="500.5" r="0.8" fill="#f8d070" opacity="0.6"/><circle cx="484.1" cy="457.4" r="1.0" fill="#f8d070" opacity="0.6"/><circle cx="438.8" cy="197.3" r="0.9" fill="#f8d070" opacity="0.6"/><circle cx="380.5" cy="92.3" r="1.0" fill="#f8d070" opacity="0.6"/><circle cx="392.4" cy="444.8" r="0.7" fill="#f8d070" opacity="0.6"/><circle cx="515.7" cy="389.5" r="1.2" fill="#f8d070" opacity="0.6"/><circle cx="514.3" cy="487.3" r="1.0" fill="#f8d070" opacity="0.6"/><circle cx="337.6" cy="414.0" r="0.8" fill="#f8d070" opacity="0.6"/><circle cx="395.0" cy="374.9" r="1.0" fill="#f8d070" opacity="0.6"/><circle cx="417.8" cy="506.0" r="1.0" fill="#f8d070" opacity="0.6"/><circle cx="403.3" cy="179.9" r="1.1" fill="#f8d070" opacity="0.6"/><circle cx="430.4" cy="431.6" r="0.9" fill="#f8d070" opacity="0.6"/><circle cx="374.5" cy="314.0" r="1.1" fill="#f8d070" opacity="0.6"/><circle cx="369.3" cy="436.0" r="1.2" fill="#f8d070" opacity="0.6"/><circle cx="496.2" cy="451.2" r="0.7" fill="#f8d070" opacity="0.6"/><circle cx="460.7" cy="469.7" r="0.7" fill="#f8d070" opacity="0.6"/><circle cx="389.3" cy="187.6" r="1.0" fill="#f8d070" opacity="0.6"/><circle cx="419.6" cy="284.6" r="1.1" fill="#f8d070" opacity="0.6"/><circle cx="335.4" cy="86.0" r="0.8" fill="#f8d070" opacity="0.6"/><circle cx="359.9" cy="92.5" r="1.2" fill="#f8d070" opacity="0.6"/><circle cx="505.9" cy="100.9" r="1.0" fill="#f8d070" opacity="0.6"/><circle cx="398.2" cy="209.4" r="0.9" fill="#f8d070" opacity="0.6"/><circle cx="464.4" cy="338.6" r="0.9" fill="#f8d070" opacity="0.6"/><circle cx="373.2" cy="216.2" r="0.8" fill="#f8d070" opacity="0.6"/><circle cx="446.1" cy="400.1" r="0.9" fill="#f8d070" opacity="0.6"/><circle cx="351.0" cy="144.8" r="0.9" fill="#f8d070" opacity="0.6"/><circle cx="455.9" cy="431.7" r="0.9" fill="#f8d070" opacity="0.6"/><circle cx="407.7" cy="284.3" r="0.8" fill="#f4b850" opacity="0.55"/><circle cx="370.4" cy="238.6" r="0.9" fill="#f4b850" opacity="0.55"/><circle cx="374.6" cy="309.9" r="0.8" fill="#f4b850" opacity="0.55"/><circle cx="359.3" cy="252.9" r="0.9" fill="#f4b850" opacity="0.55"/><circle cx="344.2" cy="213.0" r="0.8" fill="#f4b850" opacity="0.55"/><circle cx="414.5" cy="397.1" r="0.7" fill="#f4b850" opacity="0.55"/><circle cx="416.1" cy="344.7" r="0.7" fill="#f4b850" opacity="0.55"/><circle cx="378.4" cy="104.3" r="0.9" fill="#f4b850" opacity="0.55"/><circle cx="395.6" cy="379.4" r="0.9" fill="#f4b850" opacity="0.55"/><circle cx="396.1" cy="324.1" r="0.8" fill="#f4b850" opacity="0.55"/><circle cx="347.0" cy="271.6" r="0.6" fill="#f4b850" opacity="0.55"/><circle cx="350.5" cy="338.7" r="0.6" fill="#f4b850" opacity="0.55"/><circle cx="346.0" cy="95.7" r="1.0" fill="#f4b850" opacity="0.55"/><circle cx="353.6" cy="68.5" r="0.9" fill="#f4b850" opacity="0.55"/><circle cx="348.6" cy="363.8" r="0.9" fill="#f4b850" opacity="0.55"/><circle cx="410.7" cy="402.9" r="0.8" fill="#f4b850" opacity="0.55"/><circle cx="407.5" cy="73.1" r="0.9" fill="#f4b850" opacity="0.55"/><circle cx="382.5" cy="317.5" r="0.6" fill="#f4b850" opacity="0.55"/><circle cx="403.2" cy="396.4" r="0.6" fill="#f4b850" opacity="0.55"/><circle cx="366.2" cy="263.0" r="0.9" fill="#f4b850" opacity="0.55"/><circle cx="359.1" cy="124.7" r="0.7" fill="#f4b850" opacity="0.55"/><circle cx="391.6" cy="331.3" r="0.8" fill="#f4b850" opacity="0.55"/><circle cx="370.0" cy="202.8" r="0.7" fill="#f4b850" opacity="0.55"/><circle cx="374.4" cy="90.0" r="0.8" fill="#f4b850" opacity="0.55"/><circle cx="422.7" cy="208.6" r="0.9" fill="#f4b850" opacity="0.55"/><circle cx="352.0" cy="308.7" r="0.9" fill="#f4b850" opacity="0.55"/><circle cx="396.6" cy="246.2" r="0.8" fill="#f4b850" opacity="0.55"/><circle cx="393.9" cy="383.1" r="0.7" fill="#f4b850" opacity="0.55"/><circle cx="346.3" cy="329.3" r="1.0" fill="#f4b850" opacity="0.55"/><circle cx="383.0" cy="219.5" r="0.9" fill="#f4b850" opacity="0.55"/><circle cx="354.2" cy="156.2" r="0.7" fill="#f4b850" opacity="0.55"/><circle cx="388.9" cy="173.3" r="0.7" fill="#f4b850" opacity="0.55"/><circle cx="398.1" cy="403.2" r="0.7" fill="#f4b850" opacity="0.55"/><circle cx="399.4" cy="208.8" r="0.9" fill="#f4b850" opacity="0.55"/><circle cx="388.9" cy="156.2" r="0.7" fill="#f4b850" opacity="0.55"/><circle cx="340.0" cy="232.6" r="0.8" fill="#f4b850" opacity="0.55"/><circle cx="353.0" cy="189.8" r="0.7" fill="#f4b850" opacity="0.55"/><circle cx="405.4" cy="111.7" r="1.0" fill="#f4b850" opacity="0.55"/><circle cx="379.7" cy="275.6" r="0.8" fill="#f4b850" opacity="0.55"/><circle cx="410.6" cy="355.8" r="0.8" fill="#f4b850" opacity="0.55"/><circle cx="379.9" cy="319.5" r="0.9" fill="#f4b850" opacity="0.55"/><circle cx="372.8" cy="324.1" r="1.0" fill="#f4b850" opacity="0.55"/><circle cx="378.7" cy="142.7" r="0.7" fill="#f4b850" opacity="0.55"/><circle cx="400.4" cy="303.1" r="1.0" fill="#f4b850" opacity="0.55"/><circle cx="412.3" cy="147.2" r="0.7" fill="#f4b850" opacity="0.55"/><circle cx="360.5" cy="127.4" r="0.9" fill="#f4b850" opacity="0.55"/><circle cx="412.7" cy="383.9" r="0.7" fill="#f4b850" opacity="0.55"/><circle cx="413.3" cy="172.8" r="0.8" fill="#f4b850" opacity="0.55"/><circle cx="401.4" cy="90.9" r="0.6" fill="#f4b850" opacity="0.55"/><circle cx="410.6" cy="165.0" r="0.7" fill="#f4b850" opacity="0.55"/><circle cx="388.5" cy="303.2" r="0.6" fill="#f4b850" opacity="0.55"/><circle cx="367.1" cy="217.0" r="0.8" fill="#f4b850" opacity="0.55"/><circle cx="356.3" cy="270.6" r="1.0" fill="#f4b850" opacity="0.55"/><circle cx="372.0" cy="256.0" r="0.6" fill="#f4b850" opacity="0.55"/><circle cx="361.9" cy="299.6" r="0.6" fill="#f4b850" opacity="0.55"/><circle cx="415.2" cy="387.2" r="0.6" fill="#f4b850" opacity="0.55"/><circle cx="419.9" cy="194.7" r="0.9" fill="#f4b850" opacity="0.55"/><circle cx="403.9" cy="166.4" r="0.9" fill="#f4b850" opacity="0.55"/><circle cx="394.9" cy="350.2" r="0.7" fill="#f4b850" opacity="0.55"/><circle cx="403.6" cy="406.1" r="0.9" fill="#f4b850" opacity="0.55"/><circle cx="384.6" cy="100.8" r="0.8" fill="#f4b850" opacity="0.55"/><circle cx="368.6" cy="318.5" r="0.9" fill="#f4b850" opacity="0.55"/><circle cx="387.3" cy="125.5" r="0.9" fill="#f4b850" opacity="0.55"/><circle cx="392.9" cy="124.5" r="1.0" fill="#f4b850" opacity="0.55"/><circle cx="395.0" cy="104.3" r="1.0" fill="#f4b850" opacity="0.55"/><circle cx="350.3" cy="179.4" r="0.9" fill="#f4b850" opacity="0.55"/><circle cx="390.0" cy="259.8" r="0.9" fill="#f4b850" opacity="0.55"/><circle cx="377.8" cy="172.5" r="0.7" fill="#f4b850" opacity="0.55"/><circle cx="344.0" cy="317.7" r="0.9" fill="#f4b850" opacity="0.55"/><circle cx="385.3" cy="326.3" r="0.7" fill="#f4b850" opacity="0.55"/><circle cx="361.1" cy="198.0" r="0.9" fill="#f4b850" opacity="0.55"/><circle cx="341.7" cy="241.7" r="0.7" fill="#f4b850" opacity="0.55"/><circle cx="404.9" cy="187.5" r="0.7" fill="#f4b850" opacity="0.55"/><circle cx="373.1" cy="254.9" r="0.9" fill="#f4b850" opacity="0.55"/><circle cx="368.7" cy="364.9" r="0.6" fill="#f4b850" opacity="0.55"/><circle cx="361.5" cy="95.9" r="0.6" fill="#f4b850" opacity="0.55"/><circle cx="405.8" cy="321.8" r="0.7" fill="#f4b850" opacity="0.55"/><circle cx="354.5" cy="210.0" r="0.9" fill="#f4b850" opacity="0.55"/><circle cx="409.0" cy="329.5" r="0.8" fill="#f4b850" opacity="0.55"/><circle cx="350.7" cy="203.4" r="0.7" fill="#f4b850" opacity="0.55"/><circle cx="383.9" cy="264.6" r="0.7" fill="#f4b850" opacity="0.55"/><circle cx="359.8" cy="341.4" r="0.6" fill="#f4b850" opacity="0.55"/><circle cx="407.9" cy="380.8" r="1.0" fill="#f4b850" opacity="0.55"/><circle cx="371.3" cy="258.9" r="0.8" fill="#f4b850" opacity="0.55"/><circle cx="393.1" cy="411.7" r="0.9" fill="#f4b850" opacity="0.55"/><circle cx="364.0" cy="369.6" r="0.8" fill="#f4b850" opacity="0.55"/><circle cx="390.3" cy="321.7" r="0.6" fill="#f4b850" opacity="0.55"/><circle cx="405.0" cy="298.3" r="0.8" fill="#f4b850" opacity="0.55"/><circle cx="383.6" cy="225.8" r="0.7" fill="#f4b850" opacity="0.55"/><circle cx="384.1" cy="73.3" r="0.8" fill="#f4b850" opacity="0.55"/><circle cx="394.2" cy="219.9" r="0.8" fill="#f4b850" opacity="0.55"/><circle cx="421.4" cy="381.1" r="0.7" fill="#f4b850" opacity="0.55"/><circle cx="406.9" cy="284.4" r="0.6" fill="#f4b850" opacity="0.55"/><circle cx="369.3" cy="144.0" r="0.6" fill="#f4b850" opacity="0.55"/><circle cx="384.9" cy="394.7" r="0.7" fill="#f4b850" opacity="0.55"/><circle cx="413.7" cy="310.1" r="0.7" fill="#f4b850" opacity="0.55"/><circle cx="412.7" cy="276.4" r="1.0" fill="#f4b850" opacity="0.55"/><circle cx="400.3" cy="326.3" r="0.7" fill="#f4b850" opacity="0.55"/><circle cx="408.2" cy="395.4" r="0.9" fill="#f4b850" opacity="0.55"/><circle cx="376.0" cy="332.5" r="0.8" fill="#f4b850" opacity="0.55"/><circle cx="347.5" cy="75.4" r="0.6" fill="#f4b850" opacity="0.55"/><circle cx="355.4" cy="117.9" r="0.8" fill="#f4b850" opacity="0.55"/><circle cx="398.8" cy="253.5" r="0.8" fill="#f4b850" opacity="0.55"/><circle cx="394.5" cy="169.7" r="0.8" fill="#f4b850" opacity="0.55"/><circle cx="403.9" cy="204.5" r="0.7" fill="#f4b850" opacity="0.55"/><circle cx="416.2" cy="319.1" r="0.7" fill="#f4b850" opacity="0.55"/><circle cx="370.3" cy="250.6" r="0.8" fill="#f4b850" opacity="0.55"/><circle cx="357.5" cy="61.0" r="0.7" fill="#f4b850" opacity="0.55"/><circle cx="406.1" cy="111.7" r="0.8" fill="#f4b850" opacity="0.55"/><circle cx="355.0" cy="135.3" r="0.7" fill="#f4b850" opacity="0.55"/><circle cx="373.1" cy="120.6" r="0.6" fill="#f4b850" opacity="0.55"/><circle cx="347.6" cy="120.6" r="0.8" fill="#f4b850" opacity="0.55"/><circle cx="343.2" cy="68.1" r="0.8" fill="#f4b850" opacity="0.55"/><circle cx="373.5" cy="313.2" r="0.6" fill="#f4b850" opacity="0.55"/><circle cx="373.1" cy="202.8" r="0.6" fill="#f4b850" opacity="0.55"/><circle cx="422.0" cy="138.8" r="0.6" fill="#f4b850" opacity="0.55"/><circle cx="379.3" cy="119.3" r="0.8" fill="#f4b850" opacity="0.55"/><circle cx="368.1" cy="104.6" r="0.6" fill="#f4b850" opacity="0.55"/><circle cx="401.3" cy="159.0" r="0.9" fill="#f4b850" opacity="0.55"/><circle cx="378.5" cy="395.9" r="0.7" fill="#f4b850" opacity="0.55"/></g>
  <!-- ellipse / arrows / text -->
  <ellipse cx="434" cy="143" rx="29.5" ry="73.5" transform="rotate(20 434 143)" fill="none" stroke="#fdfcf4" stroke-width="3.4"/>
  <path d="M386.2 113.8 L429 136.5" stroke="#fdfcf4" stroke-width="3.6"/>
  <path d="M438.5 141.5 L423 141.8 L430 129 Z" fill="#fdfcf4"/>
  <path d="M476.4 170.5 L454 153" stroke="#fdfcf4" stroke-width="3.6"/>
  <path d="M447.3 147.3 L461.5 151.5 L451 161.5 Z" fill="#fdfcf4"/>
  <text class="ser" x="369.6" y="94.9" font-size="33.5" fill="#fdfcf4">I(1)</text>
  <text class="ser" x="465.6" y="197.3" font-size="33.5" fill="#fdfcf4">I(2)</text>
</g>

<!-- labels -->
<text class="ser" x="114" y="568" font-size="21" letter-spacing="-0.9">(<tspan font-weight="bold">a</tspan>)</text>
<text class="ser" x="421" y="568" font-size="21" letter-spacing="-0.9">(<tspan font-weight="bold">b</tspan>)</text>
<text class="ser" x="279.5" y="1092" font-size="19.5" letter-spacing="-0.6">(<tspan font-weight="bold">c</tspan>)</text>

<!-- ============ CHART ============ -->
<g class="sans" font-size="15.5" fill="#1a1a1a" text-anchor="end">
  <text x="59.6" y="636.8">30</text>
  <text x="59.6" y="685.9">20</text>
  <text x="59.6" y="735">10</text>
  <text x="59.6" y="784">0</text>
  <text x="59.6" y="833.1">-10</text>
  <text x="59.6" y="882.2">-20</text>
  <text x="59.6" y="931.3">-30</text>
  <text x="59.6" y="980.4">-40</text>
</g>
<g class="sans" font-size="15" fill="#1a1a1a" text-anchor="middle">
  <text x="60" y="1011.8">-0.6</text>
  <text x="135.6" y="1011.8">-0.4</text>
  <text x="211" y="1011.8">-0.2</text>
  <text x="286.3" y="1011.8">0.0</text>
  <text x="361.7" y="1011.8">0.2</text>
  <text x="437.1" y="1011.8">0.4</text>
  <text x="512.8" y="1011.8">0.6</text>
</g>
<text class="sans" x="255.5" y="1037.5" font-size="16.8" fill="#1a1a1a">Vsd (V<tspan dx="3">)</tspan></text>
<text class="sans" transform="translate(28.3 858.5) rotate(-90)" font-size="17.7" fill="#1a1a1a">Isd (nA)</text>
<path d="M60.5 631 V999.5 H513.5" fill="none" stroke="#000" stroke-width="2"/>

<g fill="#000"><rect x="121.7" y="793.2" width="3.0" height="3.0"/><rect x="122.2" y="791.4" width="3.0" height="3.0"/><rect x="122.5" y="790.0" width="3.0" height="3.0"/><rect x="122.6" y="788.4" width="3.0" height="3.0"/><rect x="122.9" y="786.6" width="3.0" height="3.0"/><rect x="124.0" y="785.0" width="3.0" height="3.0"/><rect x="125.4" y="784.5" width="3.0" height="3.0"/><rect x="126.6" y="782.8" width="3.0" height="3.0"/><rect x="128.4" y="782.3" width="3.0" height="3.0"/><rect x="130.0" y="781.5" width="3.0" height="3.0"/><rect x="132.0" y="780.8" width="3.0" height="3.0"/><rect x="133.6" y="780.7" width="3.0" height="3.0"/><rect x="134.7" y="780.2" width="3.0" height="3.0"/><rect x="136.2" y="780.5" width="3.0" height="3.0"/><rect x="137.6" y="779.9" width="3.0" height="3.0"/><rect x="139.3" y="779.4" width="3.0" height="3.0"/><rect x="140.7" y="778.8" width="3.0" height="3.0"/><rect x="141.8" y="778.7" width="3.0" height="3.0"/><rect x="144.4" y="779.4" width="3.0" height="3.0"/><rect x="163.6" y="787.2" width="3.0" height="3.0"/><rect x="164.0" y="785.3" width="3.0" height="3.0"/><rect x="164.5" y="784.1" width="3.0" height="3.0"/><rect x="164.5" y="782.4" width="3.0" height="3.0"/><rect x="166.5" y="782.0" width="3.0" height="3.0"/><rect x="168.4" y="780.7" width="3.0" height="3.0"/><rect x="170.1" y="780.2" width="3.0" height="3.0"/><rect x="171.2" y="780.4" width="3.0" height="3.0"/><rect x="172.5" y="779.8" width="3.0" height="3.0"/><rect x="173.9" y="779.9" width="3.0" height="3.0"/><rect x="175.7" y="779.7" width="3.0" height="3.0"/><rect x="177.2" y="779.3" width="3.0" height="3.0"/><rect x="178.6" y="779.6" width="3.0" height="3.0"/><rect x="179.9" y="779.5" width="3.0" height="3.0"/><rect x="181.5" y="779.9" width="3.0" height="3.0"/><rect x="182.7" y="779.7" width="3.0" height="3.0"/><rect x="183.9" y="779.7" width="3.0" height="3.0"/><rect x="185.7" y="780.0" width="3.0" height="3.0"/><rect x="187.2" y="779.3" width="3.0" height="3.0"/><rect x="188.4" y="779.7" width="3.0" height="3.0"/><rect x="189.6" y="779.5" width="3.0" height="3.0"/><rect x="191.1" y="779.1" width="3.0" height="3.0"/><rect x="192.5" y="779.8" width="3.0" height="3.0"/><rect x="194.0" y="779.2" width="3.0" height="3.0"/><rect x="195.6" y="779.9" width="3.0" height="3.0"/><rect x="196.8" y="779.4" width="3.0" height="3.0"/><rect x="198.5" y="779.9" width="3.0" height="3.0"/><rect x="200.1" y="779.9" width="3.0" height="3.0"/><rect x="201.2" y="779.4" width="3.0" height="3.0"/><rect x="202.7" y="779.9" width="3.0" height="3.0"/><rect x="204.5" y="779.2" width="3.0" height="3.0"/><rect x="205.4" y="779.2" width="3.0" height="3.0"/><rect x="206.9" y="779.5" width="3.0" height="3.0"/><rect x="208.6" y="779.3" width="3.0" height="3.0"/><rect x="209.6" y="779.4" width="3.0" height="3.0"/><rect x="211.3" y="779.6" width="3.0" height="3.0"/><rect x="213.1" y="779.7" width="3.0" height="3.0"/><rect x="214.2" y="779.6" width="3.0" height="3.0"/><rect x="215.7" y="779.1" width="3.0" height="3.0"/><rect x="217.3" y="779.8" width="3.0" height="3.0"/><rect x="218.7" y="779.8" width="3.0" height="3.0"/><rect x="219.9" y="779.4" width="3.0" height="3.0"/><rect x="221.1" y="779.6" width="3.0" height="3.0"/><rect x="222.5" y="779.1" width="3.0" height="3.0"/><rect x="224.0" y="779.2" width="3.0" height="3.0"/><rect x="225.5" y="779.1" width="3.0" height="3.0"/><rect x="226.8" y="779.2" width="3.0" height="3.0"/><rect x="228.3" y="779.4" width="3.0" height="3.0"/><rect x="229.6" y="779.9" width="3.0" height="3.0"/><rect x="231.4" y="779.1" width="3.0" height="3.0"/><rect x="232.6" y="779.3" width="3.0" height="3.0"/><rect x="234.1" y="779.1" width="3.0" height="3.0"/><rect x="235.9" y="780.0" width="3.0" height="3.0"/><rect x="237.1" y="779.5" width="3.0" height="3.0"/><rect x="238.3" y="779.1" width="3.0" height="3.0"/><rect x="239.8" y="779.3" width="3.0" height="3.0"/><rect x="241.6" y="779.2" width="3.0" height="3.0"/><rect x="242.5" y="780.0" width="3.0" height="3.0"/><rect x="244.2" y="779.1" width="3.0" height="3.0"/><rect x="245.7" y="779.0" width="3.0" height="3.0"/><rect x="247.1" y="780.0" width="3.0" height="3.0"/><rect x="248.7" y="779.7" width="3.0" height="3.0"/><rect x="249.8" y="779.4" width="3.0" height="3.0"/><rect x="251.2" y="779.7" width="3.0" height="3.0"/><rect x="252.8" y="779.7" width="3.0" height="3.0"/><rect x="254.1" y="779.2" width="3.0" height="3.0"/><rect x="255.8" y="779.9" width="3.0" height="3.0"/><rect x="257.3" y="779.7" width="3.0" height="3.0"/><rect x="258.7" y="779.6" width="3.0" height="3.0"/><rect x="259.8" y="779.4" width="3.0" height="3.0"/><rect x="261.3" y="778.9" width="3.0" height="3.0"/><rect x="262.5" y="779.1" width="3.0" height="3.0"/><rect x="264.1" y="779.5" width="3.0" height="3.0"/><rect x="265.9" y="779.3" width="3.0" height="3.0"/><rect x="267.3" y="779.8" width="3.0" height="3.0"/><rect x="268.8" y="779.2" width="3.0" height="3.0"/><rect x="269.8" y="779.0" width="3.0" height="3.0"/><rect x="271.2" y="779.0" width="3.0" height="3.0"/><rect x="272.9" y="779.7" width="3.0" height="3.0"/><rect x="274.4" y="779.2" width="3.0" height="3.0"/><rect x="275.7" y="779.5" width="3.0" height="3.0"/><rect x="276.8" y="779.4" width="3.0" height="3.0"/><rect x="278.7" y="779.5" width="3.0" height="3.0"/><rect x="280.1" y="779.2" width="3.0" height="3.0"/><rect x="281.2" y="779.5" width="3.0" height="3.0"/><rect x="282.7" y="779.5" width="3.0" height="3.0"/><rect x="284.5" y="779.0" width="3.0" height="3.0"/><rect x="285.6" y="779.6" width="3.0" height="3.0"/><rect x="287.2" y="778.8" width="3.0" height="3.0"/><rect x="288.3" y="778.8" width="3.0" height="3.0"/><rect x="290.2" y="779.4" width="3.0" height="3.0"/><rect x="291.1" y="779.4" width="3.0" height="3.0"/><rect x="293.1" y="779.2" width="3.0" height="3.0"/><rect x="294.1" y="779.1" width="3.0" height="3.0"/><rect x="295.4" y="778.5" width="3.0" height="3.0"/><rect x="297.4" y="779.2" width="3.0" height="3.0"/><rect x="298.5" y="779.4" width="3.0" height="3.0"/><rect x="299.9" y="779.4" width="3.0" height="3.0"/><rect x="301.6" y="778.7" width="3.0" height="3.0"/><rect x="302.6" y="778.8" width="3.0" height="3.0"/><rect x="304.1" y="779.1" width="3.0" height="3.0"/><rect x="305.5" y="778.9" width="3.0" height="3.0"/><rect x="306.9" y="779.4" width="3.0" height="3.0"/><rect x="308.4" y="779.0" width="3.0" height="3.0"/><rect x="310.0" y="779.4" width="3.0" height="3.0"/><rect x="311.3" y="779.4" width="3.0" height="3.0"/><rect x="312.8" y="779.0" width="3.0" height="3.0"/><rect x="314.2" y="778.5" width="3.0" height="3.0"/><rect x="315.6" y="778.7" width="3.0" height="3.0"/><rect x="316.8" y="779.3" width="3.0" height="3.0"/><rect x="318.3" y="779.0" width="3.0" height="3.0"/><rect x="320.1" y="779.1" width="3.0" height="3.0"/><rect x="321.3" y="779.0" width="3.0" height="3.0"/><rect x="322.8" y="779.3" width="3.0" height="3.0"/><rect x="324.0" y="779.1" width="3.0" height="3.0"/><rect x="325.5" y="778.8" width="3.0" height="3.0"/><rect x="327.2" y="779.0" width="3.0" height="3.0"/><rect x="328.5" y="779.3" width="3.0" height="3.0"/><rect x="330.2" y="778.9" width="3.0" height="3.0"/><rect x="331.4" y="779.0" width="3.0" height="3.0"/><rect x="332.8" y="779.2" width="3.0" height="3.0"/><rect x="334.2" y="779.0" width="3.0" height="3.0"/><rect x="335.6" y="779.4" width="3.0" height="3.0"/><rect x="337.2" y="779.4" width="3.0" height="3.0"/><rect x="338.8" y="778.8" width="3.0" height="3.0"/><rect x="340.0" y="779.4" width="3.0" height="3.0"/><rect x="341.6" y="778.6" width="3.0" height="3.0"/><rect x="342.6" y="778.9" width="3.0" height="3.0"/><rect x="344.0" y="778.7" width="3.0" height="3.0"/><rect x="345.4" y="779.2" width="3.0" height="3.0"/><rect x="347.2" y="779.4" width="3.0" height="3.0"/><rect x="348.3" y="779.2" width="3.0" height="3.0"/><rect x="350.0" y="778.6" width="3.0" height="3.0"/><rect x="351.6" y="779.5" width="3.0" height="3.0"/><rect x="352.7" y="779.5" width="3.0" height="3.0"/><rect x="354.2" y="779.0" width="3.0" height="3.0"/><rect x="356.0" y="779.3" width="3.0" height="3.0"/><rect x="357.0" y="778.9" width="3.0" height="3.0"/><rect x="358.6" y="778.8" width="3.0" height="3.0"/><rect x="359.9" y="778.8" width="3.0" height="3.0"/><rect x="361.6" y="778.5" width="3.0" height="3.0"/><rect x="363.0" y="778.9" width="3.0" height="3.0"/><rect x="364.1" y="778.8" width="3.0" height="3.0"/><rect x="365.9" y="779.0" width="3.0" height="3.0"/><rect x="367.0" y="779.5" width="3.0" height="3.0"/><rect x="368.9" y="779.5" width="3.0" height="3.0"/><rect x="370.0" y="778.8" width="3.0" height="3.0"/><rect x="371.4" y="779.3" width="3.0" height="3.0"/><rect x="372.9" y="778.6" width="3.0" height="3.0"/><rect x="374.5" y="779.4" width="3.0" height="3.0"/><rect x="376.2" y="778.8" width="3.0" height="3.0"/><rect x="377.2" y="779.4" width="3.0" height="3.0"/><rect x="378.9" y="779.2" width="3.0" height="3.0"/><rect x="380.1" y="778.6" width="3.0" height="3.0"/><rect x="381.9" y="778.9" width="3.0" height="3.0"/><rect x="382.9" y="779.4" width="3.0" height="3.0"/><rect x="384.6" y="778.8" width="3.0" height="3.0"/><rect x="385.6" y="778.3" width="3.0" height="3.0"/><rect x="386.9" y="777.7" width="3.0" height="3.0"/><rect x="388.5" y="776.7" width="3.0" height="3.0"/><rect x="389.8" y="776.7" width="3.0" height="3.0"/><rect x="390.7" y="774.6" width="3.0" height="3.0"/><rect x="392.0" y="773.3" width="3.0" height="3.0"/><rect x="392.8" y="771.9" width="3.0" height="3.0"/><rect x="393.8" y="770.6" width="3.0" height="3.0"/><rect x="395.7" y="769.6" width="3.0" height="3.0"/><rect x="397.7" y="768.5" width="3.0" height="3.0"/><rect x="398.8" y="767.3" width="3.0" height="3.0"/><rect x="400.1" y="766.1" width="3.0" height="3.0"/><rect x="401.4" y="765.0" width="3.0" height="3.0"/><rect x="402.6" y="764.3" width="3.0" height="3.0"/><rect x="403.3" y="763.0" width="3.0" height="3.0"/><rect x="404.8" y="761.3" width="3.0" height="3.0"/><rect x="405.7" y="760.4" width="3.0" height="3.0"/><rect x="406.5" y="759.5" width="3.0" height="3.0"/><rect x="129.0" y="787.4" width="3.0" height="3.0"/><rect x="122.0" y="793.2" width="3.0" height="3.0"/><rect x="161.0" y="804.1" width="3.0" height="3.0"/><rect x="162.0" y="805.5" width="3.0" height="3.0"/><rect x="108.9" y="815.0" width="3.0" height="3.0"/><rect x="118.7" y="820.7" width="3.0" height="3.0"/><rect x="120.8" y="821.7" width="3.0" height="3.0"/><rect x="115.8" y="807.5" width="3.0" height="3.0"/><rect x="99.4" y="832.1" width="3.0" height="3.0"/><rect x="111.7" y="838.5" width="3.0" height="3.0"/><rect x="111.2" y="846.7" width="3.0" height="3.0"/><rect x="119.5" y="821.0" width="3.0" height="3.0"/><rect x="99.0" y="832.5" width="3.0" height="3.0"/><rect x="112.1" y="838.5" width="3.0" height="3.0"/><rect x="111.3" y="847.1" width="3.0" height="3.0"/><rect x="113.5" y="847.1" width="3.0" height="3.0"/><rect x="119.2" y="854.2" width="3.0" height="3.0"/><rect x="114.3" y="857.5" width="3.0" height="3.0"/><rect x="107.2" y="868.5" width="3.0" height="3.0"/><rect x="105.5" y="899.5" width="3.0" height="3.0"/><rect x="145.7" y="836.5" width="3.0" height="3.0"/><rect x="158.0" y="840.3" width="3.0" height="3.0"/><rect x="149.0" y="845.5" width="3.0" height="3.0"/><rect x="151.9" y="853.2" width="3.0" height="3.0"/><rect x="147.3" y="856.1" width="3.0" height="3.0"/><rect x="149.8" y="879.9" width="3.0" height="3.0"/><rect x="154.2" y="895.1" width="3.0" height="3.0"/><rect x="157.5" y="840.9" width="3.0" height="3.0"/><rect x="151.8" y="853.1" width="3.0" height="3.0"/><rect x="103.1" y="952.5" width="3.0" height="3.0"/><rect x="104.5" y="966.9" width="3.0" height="3.0"/><rect x="153.0" y="948.9" width="3.0" height="3.0"/><rect x="156.3" y="972.5" width="3.0" height="3.0"/><rect x="411.5" y="763.0" width="3.0" height="3.0"/><rect x="414.1" y="760.5" width="3.0" height="3.0"/><rect x="416.5" y="764.3" width="3.0" height="3.0"/><rect x="420.5" y="771.9" width="3.0" height="3.0"/><rect x="422.5" y="771.3" width="3.0" height="3.0"/><rect x="425.5" y="770.7" width="3.0" height="3.0"/><rect x="429.5" y="752.9" width="3.0" height="3.0"/><rect x="431.0" y="753.5" width="3.0" height="3.0"/><rect x="433.2" y="754.1" width="3.0" height="3.0"/><rect x="435.8" y="761.8" width="3.0" height="3.0"/><rect x="439.5" y="774.5" width="3.0" height="3.0"/><rect x="441.5" y="774.0" width="3.0" height="3.0"/><rect x="443.4" y="773.2" width="3.0" height="3.0"/><rect x="445.2" y="775.8" width="3.0" height="3.0"/><rect x="448.5" y="752.9" width="3.0" height="3.0"/><rect x="449.8" y="763.0" width="3.0" height="3.0"/><rect x="452.3" y="757.9" width="3.0" height="3.0"/><rect x="453.5" y="760.5" width="3.0" height="3.0"/><rect x="454.9" y="763.0" width="3.0" height="3.0"/><rect x="453.5" y="740.9" width="3.0" height="3.0"/><rect x="465.0" y="749.0" width="3.0" height="3.0"/><rect x="467.5" y="751.5" width="3.0" height="3.0"/><rect x="468.9" y="763.0" width="3.0" height="3.0"/><rect x="471.5" y="765.5" width="3.0" height="3.0"/><rect x="473.9" y="770.7" width="3.0" height="3.0"/><rect x="472.5" y="768.5" width="3.0" height="3.0"/><rect x="402.5" y="764.5" width="3.0" height="3.0"/><rect x="404.0" y="762.5" width="3.0" height="3.0"/><rect x="405.5" y="761.0" width="3.0" height="3.0"/><rect x="408.0" y="758.0" width="3.0" height="3.0"/><rect x="410.5" y="765.0" width="3.0" height="3.0"/><rect x="412.0" y="759.5" width="3.0" height="3.0"/><rect x="414.5" y="765.5" width="3.0" height="3.0"/><rect x="415.5" y="758.5" width="3.0" height="3.0"/><rect x="418.0" y="762.5" width="3.0" height="3.0"/><rect x="423.5" y="769.5" width="3.0" height="3.0"/><rect x="427.0" y="772.0" width="3.0" height="3.0"/><rect x="424.5" y="773.0" width="3.0" height="3.0"/><rect x="428.5" y="751.5" width="3.0" height="3.0"/><rect x="431.5" y="756.0" width="3.0" height="3.0"/><rect x="434.5" y="753.5" width="3.0" height="3.0"/><rect x="434.0" y="759.5" width="3.0" height="3.0"/><rect x="440.5" y="776.0" width="3.0" height="3.0"/><rect x="444.0" y="774.5" width="3.0" height="3.0"/><rect x="446.5" y="776.3" width="3.0" height="3.0"/><rect x="449.0" y="751.0" width="3.0" height="3.0"/><rect x="451.0" y="759.0" width="3.0" height="3.0"/><rect x="453.5" y="764.5" width="3.0" height="3.0"/><rect x="456.0" y="761.0" width="3.0" height="3.0"/><rect x="452.5" y="755.5" width="3.0" height="3.0"/><rect x="466.5" y="750.0" width="3.0" height="3.0"/><rect x="468.5" y="754.5" width="3.0" height="3.0"/><rect x="470.0" y="765.0" width="3.0" height="3.0"/><rect x="471.0" y="768.0" width="3.0" height="3.0"/><rect x="473.0" y="772.5" width="3.0" height="3.0"/><rect x="474.5" y="769.0" width="3.0" height="3.0"/><rect x="472.0" y="760.5" width="3.0" height="3.0"/><rect x="459.5" y="665.0" width="3.0" height="3.0"/><rect x="462.5" y="672.7" width="3.0" height="3.0"/><rect x="461.2" y="675.2" width="3.0" height="3.0"/><rect x="463.8" y="693.0" width="3.0" height="3.0"/><rect x="458.2" y="713.5" width="3.0" height="3.0"/><rect x="408.5" y="760.5" width="3.0" height="3.0"/><rect x="410.0" y="764.5" width="3.0" height="3.0"/><rect x="418.5" y="768.5" width="3.0" height="3.0"/></g><g fill="#ff0000"><circle cx="97.2" cy="840.9" r="1.55"/><circle cx="98.6" cy="841.0" r="1.55"/><circle cx="99.3" cy="839.7" r="1.55"/><circle cx="102.0" cy="839.8" r="1.55"/><circle cx="101.3" cy="837.6" r="1.55"/><circle cx="100.5" cy="835.6" r="1.55"/><circle cx="101.2" cy="836.0" r="1.55"/><circle cx="102.2" cy="833.8" r="1.55"/><circle cx="102.8" cy="834.4" r="1.55"/><circle cx="103.9" cy="832.7" r="1.55"/><circle cx="103.7" cy="830.5" r="1.55"/><circle cx="104.1" cy="829.7" r="1.55"/><circle cx="104.3" cy="828.4" r="1.55"/><circle cx="104.8" cy="828.3" r="1.55"/><circle cx="106.6" cy="827.9" r="1.55"/><circle cx="107.0" cy="829.2" r="1.55"/><circle cx="108.3" cy="828.0" r="1.55"/><circle cx="109.3" cy="828.2" r="1.55"/><circle cx="111.0" cy="828.6" r="1.55"/><circle cx="110.9" cy="827.3" r="1.55"/><circle cx="110.9" cy="825.4" r="1.55"/><circle cx="111.2" cy="824.3" r="1.55"/><circle cx="111.4" cy="822.1" r="1.55"/><circle cx="111.9" cy="821.3" r="1.55"/><circle cx="112.4" cy="820.6" r="1.55"/><circle cx="113.7" cy="819.4" r="1.55"/><circle cx="114.7" cy="818.5" r="1.55"/><circle cx="116.3" cy="816.0" r="1.55"/><circle cx="117.2" cy="814.4" r="1.55"/><circle cx="117.2" cy="814.2" r="1.55"/><circle cx="116.8" cy="813.4" r="1.55"/><circle cx="118.0" cy="811.6" r="1.55"/><circle cx="118.1" cy="810.7" r="1.55"/><circle cx="117.8" cy="808.7" r="1.55"/><circle cx="120.0" cy="809.7" r="1.55"/><circle cx="121.2" cy="810.7" r="1.55"/><circle cx="121.9" cy="811.7" r="1.55"/><circle cx="122.9" cy="812.2" r="1.55"/><circle cx="123.0" cy="809.6" r="1.55"/><circle cx="123.5" cy="809.1" r="1.55"/><circle cx="124.1" cy="808.9" r="1.55"/><circle cx="126.0" cy="809.4" r="1.55"/><circle cx="127.4" cy="810.4" r="1.55"/><circle cx="127.7" cy="810.1" r="1.55"/><circle cx="128.5" cy="813.0" r="1.55"/><circle cx="128.7" cy="813.7" r="1.55"/><circle cx="129.3" cy="813.9" r="1.55"/><circle cx="129.8" cy="815.5" r="1.55"/><circle cx="129.6" cy="816.8" r="1.55"/><circle cx="131.0" cy="817.8" r="1.55"/><circle cx="131.9" cy="820.6" r="1.55"/><circle cx="132.5" cy="820.5" r="1.55"/><circle cx="133.3" cy="822.3" r="1.55"/><circle cx="134.4" cy="823.3" r="1.55"/><circle cx="135.5" cy="822.9" r="1.55"/><circle cx="136.2" cy="824.1" r="1.55"/><circle cx="138.0" cy="825.0" r="1.55"/><circle cx="139.1" cy="825.2" r="1.55"/><circle cx="139.6" cy="826.3" r="1.55"/><circle cx="141.3" cy="827.8" r="1.55"/><circle cx="142.4" cy="827.4" r="1.55"/><circle cx="143.3" cy="828.4" r="1.55"/><circle cx="144.4" cy="828.1" r="1.55"/><circle cx="145.9" cy="828.8" r="1.55"/><circle cx="147.2" cy="829.7" r="1.55"/><circle cx="147.5" cy="827.8" r="1.55"/><circle cx="149.6" cy="828.1" r="1.55"/><circle cx="150.4" cy="825.8" r="1.55"/><circle cx="151.1" cy="826.4" r="1.55"/><circle cx="151.9" cy="824.8" r="1.55"/><circle cx="152.7" cy="823.8" r="1.55"/><circle cx="154.4" cy="822.1" r="1.55"/><circle cx="155.1" cy="822.0" r="1.55"/><circle cx="156.0" cy="821.6" r="1.55"/><circle cx="156.2" cy="821.2" r="1.55"/><circle cx="157.5" cy="818.4" r="1.55"/><circle cx="158.0" cy="818.6" r="1.55"/><circle cx="159.5" cy="817.4" r="1.55"/><circle cx="160.1" cy="816.7" r="1.55"/><circle cx="161.3" cy="816.9" r="1.55"/><circle cx="162.3" cy="817.0" r="1.55"/><circle cx="164.5" cy="815.9" r="1.55"/><circle cx="165.9" cy="817.5" r="1.55"/><circle cx="166.5" cy="817.9" r="1.55"/><circle cx="166.5" cy="819.4" r="1.55"/><circle cx="167.7" cy="821.2" r="1.55"/><circle cx="168.1" cy="821.5" r="1.55"/><circle cx="169.0" cy="821.3" r="1.55"/><circle cx="169.9" cy="823.6" r="1.55"/><circle cx="171.1" cy="824.5" r="1.55"/><circle cx="172.0" cy="822.2" r="1.55"/><circle cx="173.3" cy="821.2" r="1.55"/><circle cx="174.1" cy="822.1" r="1.55"/><circle cx="175.6" cy="821.0" r="1.55"/><circle cx="176.3" cy="820.4" r="1.55"/><circle cx="177.7" cy="819.0" r="1.55"/><circle cx="178.5" cy="817.3" r="1.55"/><circle cx="179.5" cy="817.5" r="1.55"/><circle cx="180.6" cy="817.3" r="1.55"/><circle cx="181.5" cy="815.5" r="1.55"/><circle cx="183.5" cy="815.1" r="1.55"/><circle cx="184.4" cy="815.1" r="1.55"/><circle cx="185.0" cy="805.2" r="1.55"/><circle cx="186.7" cy="804.8" r="1.55"/><circle cx="187.4" cy="805.5" r="1.55"/><circle cx="188.3" cy="806.3" r="1.55"/><circle cx="189.0" cy="806.5" r="1.55"/><circle cx="189.8" cy="809.1" r="1.55"/><circle cx="190.9" cy="808.6" r="1.55"/><circle cx="192.1" cy="811.4" r="1.55"/><circle cx="192.4" cy="810.5" r="1.55"/><circle cx="193.2" cy="809.6" r="1.55"/><circle cx="194.3" cy="808.8" r="1.55"/><circle cx="195.2" cy="808.3" r="1.55"/><circle cx="196.6" cy="808.9" r="1.55"/><circle cx="197.7" cy="807.0" r="1.55"/><circle cx="198.6" cy="806.8" r="1.55"/><circle cx="199.8" cy="806.0" r="1.55"/><circle cx="200.7" cy="805.4" r="1.55"/><circle cx="202.9" cy="804.7" r="1.55"/><circle cx="203.6" cy="806.0" r="1.55"/><circle cx="205.2" cy="805.3" r="1.55"/><circle cx="205.8" cy="805.6" r="1.55"/><circle cx="207.2" cy="806.3" r="1.55"/><circle cx="208.8" cy="806.3" r="1.55"/><circle cx="209.7" cy="803.6" r="1.55"/><circle cx="209.9" cy="804.3" r="1.55"/><circle cx="211.8" cy="802.9" r="1.55"/><circle cx="212.9" cy="801.1" r="1.55"/><circle cx="214.0" cy="802.3" r="1.55"/><circle cx="215.8" cy="801.4" r="1.55"/><circle cx="217.0" cy="801.2" r="1.55"/><circle cx="217.2" cy="802.1" r="1.55"/><circle cx="218.7" cy="804.4" r="1.55"/><circle cx="220.2" cy="805.6" r="1.55"/><circle cx="221.0" cy="806.7" r="1.55"/><circle cx="222.0" cy="807.3" r="1.55"/><circle cx="222.4" cy="806.6" r="1.55"/><circle cx="223.4" cy="805.7" r="1.55"/><circle cx="224.6" cy="803.1" r="1.55"/><circle cx="224.9" cy="801.8" r="1.55"/><circle cx="226.7" cy="802.1" r="1.55"/><circle cx="227.4" cy="800.1" r="1.55"/><circle cx="229.0" cy="800.6" r="1.55"/><circle cx="230.1" cy="799.2" r="1.55"/><circle cx="231.3" cy="797.9" r="1.55"/><circle cx="232.0" cy="798.1" r="1.55"/><circle cx="233.6" cy="797.7" r="1.55"/><circle cx="234.5" cy="796.5" r="1.55"/><circle cx="234.8" cy="795.1" r="1.55"/><circle cx="236.8" cy="796.4" r="1.55"/><circle cx="237.4" cy="795.0" r="1.55"/><circle cx="238.8" cy="796.7" r="1.55"/><circle cx="239.9" cy="796.0" r="1.55"/><circle cx="241.0" cy="796.6" r="1.55"/><circle cx="241.4" cy="793.8" r="1.55"/><circle cx="242.4" cy="793.7" r="1.55"/><circle cx="243.5" cy="792.4" r="1.55"/><circle cx="244.5" cy="792.7" r="1.55"/><circle cx="245.4" cy="791.0" r="1.55"/><circle cx="247.2" cy="790.7" r="1.55"/><circle cx="248.2" cy="790.0" r="1.55"/><circle cx="248.9" cy="790.7" r="1.55"/><circle cx="250.2" cy="790.6" r="1.55"/><circle cx="251.7" cy="788.3" r="1.55"/><circle cx="252.6" cy="788.3" r="1.55"/><circle cx="254.4" cy="789.6" r="1.55"/><circle cx="255.2" cy="788.5" r="1.55"/><circle cx="256.6" cy="789.8" r="1.55"/><circle cx="257.8" cy="787.9" r="1.55"/><circle cx="259.1" cy="788.8" r="1.55"/><circle cx="261.0" cy="789.0" r="1.55"/><circle cx="261.9" cy="788.4" r="1.55"/><circle cx="263.2" cy="786.1" r="1.55"/><circle cx="263.5" cy="786.6" r="1.55"/><circle cx="265.3" cy="784.1" r="1.55"/><circle cx="266.5" cy="784.4" r="1.55"/><circle cx="267.4" cy="783.9" r="1.55"/><circle cx="268.4" cy="782.7" r="1.55"/><circle cx="269.8" cy="783.0" r="1.55"/><circle cx="271.7" cy="782.0" r="1.55"/><circle cx="273.0" cy="781.8" r="1.55"/><circle cx="273.6" cy="782.6" r="1.55"/><circle cx="275.3" cy="781.3" r="1.55"/><circle cx="275.7" cy="780.9" r="1.55"/><circle cx="277.3" cy="781.4" r="1.55"/><circle cx="278.3" cy="779.7" r="1.55"/><circle cx="280.2" cy="778.4" r="1.55"/><circle cx="281.0" cy="779.7" r="1.55"/><circle cx="282.5" cy="777.5" r="1.55"/><circle cx="283.0" cy="777.0" r="1.55"/><circle cx="285.2" cy="777.0" r="1.55"/><circle cx="286.3" cy="778.0" r="1.55"/><circle cx="287.2" cy="776.2" r="1.55"/><circle cx="289.2" cy="776.6" r="1.55"/><circle cx="289.8" cy="776.7" r="1.55"/><circle cx="291.1" cy="775.7" r="1.55"/><circle cx="292.1" cy="776.7" r="1.55"/><circle cx="294.4" cy="776.3" r="1.55"/><circle cx="295.7" cy="774.9" r="1.55"/><circle cx="296.3" cy="775.8" r="1.55"/><circle cx="298.3" cy="776.8" r="1.55"/><circle cx="299.1" cy="775.2" r="1.55"/><circle cx="300.4" cy="775.7" r="1.55"/><circle cx="302.2" cy="774.9" r="1.55"/><circle cx="303.3" cy="775.8" r="1.55"/><circle cx="304.5" cy="775.5" r="1.55"/><circle cx="305.5" cy="774.2" r="1.55"/><circle cx="306.5" cy="773.9" r="1.55"/><circle cx="308.1" cy="772.9" r="1.55"/><circle cx="308.8" cy="774.0" r="1.55"/><circle cx="310.0" cy="772.2" r="1.55"/><circle cx="311.0" cy="772.9" r="1.55"/><circle cx="312.5" cy="773.5" r="1.55"/><circle cx="314.3" cy="773.1" r="1.55"/><circle cx="314.9" cy="770.7" r="1.55"/><circle cx="315.9" cy="771.3" r="1.55"/><circle cx="317.8" cy="770.8" r="1.55"/><circle cx="318.5" cy="770.3" r="1.55"/><circle cx="320.1" cy="770.5" r="1.55"/><circle cx="321.4" cy="770.5" r="1.55"/><circle cx="322.6" cy="768.5" r="1.55"/><circle cx="323.9" cy="768.5" r="1.55"/><circle cx="324.8" cy="768.2" r="1.55"/><circle cx="326.0" cy="767.3" r="1.55"/><circle cx="326.6" cy="766.8" r="1.55"/><circle cx="327.6" cy="767.7" r="1.55"/><circle cx="329.1" cy="765.9" r="1.55"/><circle cx="330.0" cy="766.8" r="1.55"/><circle cx="331.2" cy="764.6" r="1.55"/><circle cx="332.6" cy="765.0" r="1.55"/><circle cx="333.9" cy="763.3" r="1.55"/><circle cx="334.5" cy="764.3" r="1.55"/><circle cx="335.9" cy="764.0" r="1.55"/><circle cx="336.2" cy="762.2" r="1.55"/><circle cx="337.4" cy="761.5" r="1.55"/><circle cx="339.4" cy="761.9" r="1.55"/><circle cx="340.4" cy="760.9" r="1.55"/><circle cx="341.5" cy="760.6" r="1.55"/><circle cx="342.0" cy="760.9" r="1.55"/><circle cx="343.7" cy="758.9" r="1.55"/><circle cx="344.5" cy="759.5" r="1.55"/><circle cx="345.2" cy="758.5" r="1.55"/><circle cx="346.4" cy="757.8" r="1.55"/><circle cx="347.7" cy="758.4" r="1.55"/><circle cx="349.3" cy="757.2" r="1.55"/><circle cx="349.9" cy="757.2" r="1.55"/><circle cx="351.7" cy="756.6" r="1.55"/><circle cx="352.6" cy="756.3" r="1.55"/><circle cx="354.3" cy="756.7" r="1.55"/><circle cx="354.8" cy="755.4" r="1.55"/><circle cx="356.3" cy="756.1" r="1.55"/><circle cx="357.9" cy="754.7" r="1.55"/><circle cx="358.8" cy="755.7" r="1.55"/><circle cx="360.4" cy="754.4" r="1.55"/><circle cx="361.6" cy="755.5" r="1.55"/><circle cx="362.9" cy="754.3" r="1.55"/><circle cx="364.2" cy="753.7" r="1.55"/><circle cx="366.0" cy="754.7" r="1.55"/><circle cx="366.8" cy="752.6" r="1.55"/><circle cx="368.4" cy="752.3" r="1.55"/><circle cx="369.0" cy="753.6" r="1.55"/><circle cx="370.7" cy="753.9" r="1.55"/><circle cx="372.0" cy="754.5" r="1.55"/><circle cx="373.4" cy="753.3" r="1.55"/><circle cx="374.2" cy="754.7" r="1.55"/><circle cx="376.1" cy="755.9" r="1.55"/><circle cx="376.7" cy="755.8" r="1.55"/><circle cx="378.1" cy="756.0" r="1.55"/><circle cx="378.9" cy="756.0" r="1.55"/><circle cx="380.4" cy="757.9" r="1.55"/><circle cx="380.5" cy="758.1" r="1.55"/><circle cx="381.8" cy="760.3" r="1.55"/><circle cx="381.7" cy="759.6" r="1.55"/><circle cx="382.9" cy="762.5" r="1.55"/><circle cx="383.6" cy="760.0" r="1.55"/><circle cx="385.2" cy="760.2" r="1.55"/><circle cx="386.3" cy="760.1" r="1.55"/><circle cx="387.3" cy="758.6" r="1.55"/><circle cx="388.4" cy="758.0" r="1.55"/><circle cx="389.1" cy="758.6" r="1.55"/><circle cx="390.6" cy="756.5" r="1.55"/><circle cx="391.1" cy="756.2" r="1.55"/><circle cx="392.4" cy="755.5" r="1.55"/><circle cx="393.1" cy="754.4" r="1.55"/><circle cx="394.7" cy="755.2" r="1.55"/><circle cx="395.0" cy="753.7" r="1.55"/><circle cx="396.7" cy="751.8" r="1.55"/><circle cx="397.8" cy="751.3" r="1.55"/><circle cx="398.5" cy="751.5" r="1.55"/><circle cx="399.5" cy="750.3" r="1.55"/><circle cx="400.3" cy="750.2" r="1.55"/><circle cx="401.4" cy="749.8" r="1.55"/><circle cx="402.6" cy="748.9" r="1.55"/><circle cx="403.3" cy="748.8" r="1.55"/><circle cx="404.9" cy="747.4" r="1.55"/><circle cx="406.3" cy="748.1" r="1.55"/><circle cx="407.1" cy="746.3" r="1.55"/><circle cx="408.2" cy="745.6" r="1.55"/><circle cx="409.0" cy="745.8" r="1.55"/><circle cx="410.1" cy="745.4" r="1.55"/><circle cx="411.8" cy="744.1" r="1.55"/><circle cx="413.2" cy="743.9" r="1.55"/><circle cx="414.6" cy="745.0" r="1.55"/><circle cx="415.7" cy="743.1" r="1.55"/><circle cx="416.9" cy="743.4" r="1.55"/><circle cx="418.7" cy="742.6" r="1.55"/><circle cx="419.9" cy="744.1" r="1.55"/><circle cx="421.0" cy="744.4" r="1.55"/><circle cx="421.7" cy="745.6" r="1.55"/><circle cx="423.2" cy="746.3" r="1.55"/><circle cx="424.9" cy="745.3" r="1.55"/><circle cx="426.1" cy="746.7" r="1.55"/><circle cx="426.6" cy="745.2" r="1.55"/><circle cx="428.6" cy="744.5" r="1.55"/><circle cx="430.0" cy="744.5" r="1.55"/><circle cx="431.2" cy="743.9" r="1.55"/><circle cx="432.2" cy="745.4" r="1.55"/><circle cx="433.2" cy="743.7" r="1.55"/><circle cx="434.8" cy="743.5" r="1.55"/><circle cx="435.6" cy="743.0" r="1.55"/><circle cx="437.0" cy="744.4" r="1.55"/><circle cx="438.8" cy="744.0" r="1.55"/><circle cx="439.5" cy="743.5" r="1.55"/><circle cx="440.7" cy="742.7" r="1.55"/><circle cx="442.5" cy="742.1" r="1.55"/><circle cx="444.0" cy="742.1" r="1.55"/><circle cx="445.0" cy="742.4" r="1.55"/><circle cx="445.8" cy="742.3" r="1.55"/><circle cx="447.6" cy="740.6" r="1.55"/><circle cx="449.0" cy="739.9" r="1.55"/><circle cx="450.5" cy="739.7" r="1.55"/><circle cx="451.1" cy="739.2" r="1.55"/><circle cx="452.4" cy="737.1" r="1.55"/><circle cx="454.0" cy="736.2" r="1.55"/><circle cx="455.4" cy="736.0" r="1.55"/><circle cx="456.5" cy="737.0" r="1.55"/><circle cx="457.7" cy="735.7" r="1.55"/><circle cx="457.6" cy="732.9" r="1.55"/><circle cx="457.6" cy="732.0" r="1.55"/><circle cx="458.4" cy="731.3" r="1.55"/><circle cx="458.5" cy="731.0" r="1.55"/><circle cx="458.4" cy="728.3" r="1.55"/><circle cx="459.2" cy="726.5" r="1.55"/><circle cx="459.7" cy="726.3" r="1.55"/><circle cx="461.0" cy="725.3" r="1.55"/><circle cx="462.4" cy="725.8" r="1.55"/><circle cx="464.0" cy="724.9" r="1.55"/><circle cx="465.4" cy="725.5" r="1.55"/><circle cx="466.2" cy="726.6" r="1.55"/><circle cx="467.5" cy="724.8" r="1.55"/><circle cx="468.3" cy="727.1" r="1.55"/><circle cx="470.1" cy="728.5" r="1.55"/><circle cx="470.6" cy="728.5" r="1.55"/><circle cx="471.1" cy="730.5" r="1.55"/><circle cx="472.6" cy="730.6" r="1.55"/><circle cx="473.6" cy="731.6" r="1.55"/><circle cx="474.9" cy="733.0" r="1.55"/><circle cx="475.1" cy="734.1" r="1.55"/><circle cx="379.5" cy="760.8" r="1.55"/><circle cx="381.0" cy="759.4" r="1.55"/><circle cx="381.8" cy="759.9" r="1.55"/><circle cx="382.9" cy="758.7" r="1.55"/><circle cx="385.0" cy="757.1" r="1.55"/><circle cx="385.4" cy="757.4" r="1.55"/><circle cx="386.8" cy="756.8" r="1.55"/><circle cx="388.2" cy="755.1" r="1.55"/><circle cx="388.9" cy="754.7" r="1.55"/><circle cx="389.7" cy="755.3" r="1.55"/><circle cx="391.7" cy="754.4" r="1.55"/><circle cx="392.2" cy="754.3" r="1.55"/><circle cx="394.1" cy="753.0" r="1.55"/><circle cx="395.3" cy="752.6" r="1.55"/><circle cx="396.1" cy="751.4" r="1.55"/><circle cx="397.3" cy="750.8" r="1.55"/><circle cx="398.6" cy="752.0" r="1.55"/><circle cx="400.2" cy="751.8" r="1.55"/></g><g fill="#0000ff"><path d="M182.9 827.1l2.2 4.0h-4.4z"/><path d="M184.4 827.1l2.2 4.0h-4.4z"/><path d="M186.3 827.0l2.2 4.0h-4.4z"/><path d="M186.8 826.2l2.2 4.0h-4.4z"/><path d="M188.5 824.3l2.2 4.0h-4.4z"/><path d="M189.4 822.8l2.2 4.0h-4.4z"/><path d="M189.8 822.2l2.2 4.0h-4.4z"/><path d="M191.6 823.2l2.2 4.0h-4.4z"/><path d="M193.0 821.3l2.2 4.0h-4.4z"/><path d="M194.6 820.7l2.2 4.0h-4.4z"/><path d="M196.0 822.5l2.2 4.0h-4.4z"/><path d="M198.4 822.4l2.2 4.0h-4.4z"/><path d="M199.7 824.3l2.2 4.0h-4.4z"/><path d="M200.7 825.2l2.2 4.0h-4.4z"/><path d="M202.2 826.5l2.2 4.0h-4.4z"/><path d="M203.1 827.4l2.2 4.0h-4.4z"/><path d="M204.3 825.5l2.2 4.0h-4.4z"/><path d="M205.0 825.1l2.2 4.0h-4.4z"/><path d="M205.9 824.8l2.2 4.0h-4.4z"/><path d="M206.9 821.8l2.2 4.0h-4.4z"/><path d="M208.3 822.7l2.2 4.0h-4.4z"/><path d="M209.9 819.9l2.2 4.0h-4.4z"/><path d="M210.9 818.6l2.2 4.0h-4.4z"/><path d="M212.4 818.3l2.2 4.0h-4.4z"/><path d="M213.2 816.8l2.2 4.0h-4.4z"/><path d="M213.4 814.8l2.2 4.0h-4.4z"/><path d="M214.9 814.5l2.2 4.0h-4.4z"/><path d="M216.6 813.8l2.2 4.0h-4.4z"/><path d="M217.0 813.0l2.2 4.0h-4.4z"/><path d="M219.1 812.3l2.2 4.0h-4.4z"/><path d="M219.9 810.1l2.2 4.0h-4.4z"/><path d="M221.6 809.2l2.2 4.0h-4.4z"/><path d="M223.9 810.4l2.2 4.0h-4.4z"/><path d="M225.4 809.6l2.2 4.0h-4.4z"/><path d="M227.0 807.7l2.2 4.0h-4.4z"/><path d="M228.1 808.0l2.2 4.0h-4.4z"/><path d="M230.4 809.1l2.2 4.0h-4.4z"/><path d="M231.6 810.4l2.2 4.0h-4.4z"/><path d="M233.0 809.2l2.2 4.0h-4.4z"/><path d="M234.8 809.4l2.2 4.0h-4.4z"/><path d="M236.6 807.7l2.2 4.0h-4.4z"/><path d="M238.8 807.3l2.2 4.0h-4.4z"/><path d="M240.4 806.7l2.2 4.0h-4.4z"/><path d="M240.9 806.1l2.2 4.0h-4.4z"/><path d="M242.7 806.8l2.2 4.0h-4.4z"/><path d="M244.0 806.6l2.2 4.0h-4.4z"/><path d="M245.3 804.4l2.2 4.0h-4.4z"/><path d="M246.7 803.1l2.2 4.0h-4.4z"/><path d="M247.8 802.1l2.2 4.0h-4.4z"/><path d="M248.0 801.1l2.2 4.0h-4.4z"/><path d="M249.9 801.8l2.2 4.0h-4.4z"/><path d="M250.2 799.6l2.2 4.0h-4.4z"/><path d="M252.1 801.0l2.2 4.0h-4.4z"/><path d="M253.3 801.1l2.2 4.0h-4.4z"/><path d="M254.8 802.6l2.2 4.0h-4.4z"/><path d="M255.9 801.7l2.2 4.0h-4.4z"/><path d="M257.0 799.0l2.2 4.0h-4.4z"/><path d="M258.5 798.5l2.2 4.0h-4.4z"/><path d="M259.0 797.7l2.2 4.0h-4.4z"/><path d="M260.1 797.0l2.2 4.0h-4.4z"/><path d="M261.8 795.9l2.2 4.0h-4.4z"/><path d="M263.0 794.1l2.2 4.0h-4.4z"/><path d="M264.0 793.4l2.2 4.0h-4.4z"/><path d="M265.8 792.0l2.2 4.0h-4.4z"/><path d="M267.0 791.1l2.2 4.0h-4.4z"/><path d="M267.6 790.8l2.2 4.0h-4.4z"/><path d="M269.5 790.6l2.2 4.0h-4.4z"/><path d="M270.3 790.7l2.2 4.0h-4.4z"/><path d="M271.4 789.0l2.2 4.0h-4.4z"/><path d="M272.9 788.8l2.2 4.0h-4.4z"/><path d="M274.4 787.8l2.2 4.0h-4.4z"/><path d="M275.2 786.3l2.2 4.0h-4.4z"/><path d="M276.3 786.7l2.2 4.0h-4.4z"/><path d="M278.0 785.6l2.2 4.0h-4.4z"/><path d="M278.8 784.2l2.2 4.0h-4.4z"/><path d="M280.6 783.6l2.2 4.0h-4.4z"/><path d="M281.1 782.4l2.2 4.0h-4.4z"/><path d="M283.0 780.9l2.2 4.0h-4.4z"/><path d="M283.5 780.1l2.2 4.0h-4.4z"/><path d="M285.2 780.4l2.2 4.0h-4.4z"/><path d="M286.2 779.5l2.2 4.0h-4.4z"/><path d="M287.7 780.4l2.2 4.0h-4.4z"/><path d="M289.5 780.7l2.2 4.0h-4.4z"/><path d="M290.8 781.3l2.2 4.0h-4.4z"/><path d="M292.8 781.8l2.2 4.0h-4.4z"/><path d="M293.3 781.6l2.2 4.0h-4.4z"/><path d="M294.7 779.6l2.2 4.0h-4.4z"/><path d="M296.9 779.7l2.2 4.0h-4.4z"/><path d="M298.0 778.2l2.2 4.0h-4.4z"/><path d="M298.8 777.9l2.2 4.0h-4.4z"/><path d="M300.1 776.2l2.2 4.0h-4.4z"/><path d="M301.7 775.1l2.2 4.0h-4.4z"/><path d="M303.1 776.4l2.2 4.0h-4.4z"/><path d="M304.7 775.4l2.2 4.0h-4.4z"/><path d="M306.0 775.0l2.2 4.0h-4.4z"/><path d="M306.9 774.9l2.2 4.0h-4.4z"/><path d="M308.5 774.8l2.2 4.0h-4.4z"/><path d="M310.4 773.8l2.2 4.0h-4.4z"/><path d="M311.4 774.1l2.2 4.0h-4.4z"/><path d="M312.6 772.6l2.2 4.0h-4.4z"/><path d="M314.1 773.3l2.2 4.0h-4.4z"/><path d="M315.4 772.2l2.2 4.0h-4.4z"/><path d="M316.7 771.4l2.2 4.0h-4.4z"/><path d="M317.7 770.2l2.2 4.0h-4.4z"/><path d="M318.6 769.8l2.2 4.0h-4.4z"/><path d="M319.6 768.6l2.2 4.0h-4.4z"/><path d="M321.5 768.6l2.2 4.0h-4.4z"/><path d="M322.5 766.8l2.2 4.0h-4.4z"/><path d="M323.5 766.5l2.2 4.0h-4.4z"/><path d="M325.1 766.0l2.2 4.0h-4.4z"/><path d="M326.5 766.8l2.2 4.0h-4.4z"/><path d="M327.4 765.8l2.2 4.0h-4.4z"/><path d="M329.3 764.8l2.2 4.0h-4.4z"/><path d="M330.4 765.7l2.2 4.0h-4.4z"/><path d="M331.3 764.3l2.2 4.0h-4.4z"/><path d="M332.8 764.4l2.2 4.0h-4.4z"/><path d="M334.9 763.5l2.2 4.0h-4.4z"/><path d="M335.5 763.2l2.2 4.0h-4.4z"/><path d="M337.3 763.1l2.2 4.0h-4.4z"/><path d="M338.6 762.5l2.2 4.0h-4.4z"/><path d="M340.3 761.8l2.2 4.0h-4.4z"/><path d="M341.3 762.3l2.2 4.0h-4.4z"/><path d="M342.5 761.4l2.2 4.0h-4.4z"/><path d="M344.0 761.1l2.2 4.0h-4.4z"/><path d="M345.1 761.2l2.2 4.0h-4.4z"/><path d="M346.7 758.7l2.2 4.0h-4.4z"/><path d="M348.0 759.1l2.2 4.0h-4.4z"/><path d="M349.1 758.7l2.2 4.0h-4.4z"/><path d="M350.9 759.0l2.2 4.0h-4.4z"/><path d="M352.2 757.6l2.2 4.0h-4.4z"/><path d="M353.4 758.3l2.2 4.0h-4.4z"/><path d="M355.5 757.4l2.2 4.0h-4.4z"/><path d="M356.1 757.6l2.2 4.0h-4.4z"/><path d="M357.7 755.8l2.2 4.0h-4.4z"/><path d="M358.8 756.5l2.2 4.0h-4.4z"/><path d="M360.8 755.6l2.2 4.0h-4.4z"/><path d="M361.8 754.9l2.2 4.0h-4.4z"/><path d="M362.9 755.3l2.2 4.0h-4.4z"/><path d="M364.4 754.0l2.2 4.0h-4.4z"/><path d="M366.3 753.9l2.2 4.0h-4.4z"/><path d="M367.3 752.2l2.2 4.0h-4.4z"/><path d="M368.6 750.9l2.2 4.0h-4.4z"/><path d="M370.1 750.4l2.2 4.0h-4.4z"/><path d="M371.4 749.3l2.2 4.0h-4.4z"/><path d="M372.1 748.3l2.2 4.0h-4.4z"/><path d="M373.4 747.2l2.2 4.0h-4.4z"/><path d="M374.3 747.5l2.2 4.0h-4.4z"/><path d="M375.8 745.5l2.2 4.0h-4.4z"/><path d="M377.1 745.3l2.2 4.0h-4.4z"/><path d="M378.5 745.0l2.2 4.0h-4.4z"/><path d="M380.1 743.7l2.2 4.0h-4.4z"/><path d="M381.6 744.1l2.2 4.0h-4.4z"/><path d="M382.1 743.3l2.2 4.0h-4.4z"/><path d="M384.2 743.7l2.2 4.0h-4.4z"/><path d="M384.2 745.1l2.2 4.0h-4.4z"/><path d="M385.5 744.6l2.2 4.0h-4.4z"/><path d="M385.6 747.9l2.2 4.0h-4.4z"/><path d="M387.0 747.6l2.2 4.0h-4.4z"/><path d="M387.2 748.6l2.2 4.0h-4.4z"/><path d="M388.9 749.8l2.2 4.0h-4.4z"/><path d="M390.5 748.1l2.2 4.0h-4.4z"/><path d="M392.6 749.3l2.2 4.0h-4.4z"/><path d="M393.4 749.2l2.2 4.0h-4.4z"/><path d="M395.4 748.7l2.2 4.0h-4.4z"/><path d="M397.3 748.7l2.2 4.0h-4.4z"/><path d="M399.3 748.4l2.2 4.0h-4.4z"/><path d="M400.1 715.4l2.2 4.0h-4.4z"/><path d="M401.9 715.8l2.2 4.0h-4.4z"/><path d="M403.2 716.4l2.2 4.0h-4.4z"/><path d="M404.8 715.3l2.2 4.0h-4.4z"/><path d="M405.9 715.3l2.2 4.0h-4.4z"/><path d="M407.6 715.3l2.2 4.0h-4.4z"/><path d="M409.0 715.8l2.2 4.0h-4.4z"/><path d="M410.5 716.8l2.2 4.0h-4.4z"/><path d="M412.0 717.6l2.2 4.0h-4.4z"/><path d="M412.9 717.4l2.2 4.0h-4.4z"/><path d="M414.8 716.7l2.2 4.0h-4.4z"/><path d="M416.5 717.3l2.2 4.0h-4.4z"/><path d="M417.7 716.3l2.2 4.0h-4.4z"/><path d="M419.7 715.5l2.2 4.0h-4.4z"/><path d="M420.8 716.6l2.2 4.0h-4.4z"/><path d="M421.7 716.6l2.2 4.0h-4.4z"/><path d="M423.8 717.3l2.2 4.0h-4.4z"/><path d="M424.9 717.4l2.2 4.0h-4.4z"/><path d="M426.6 716.3l2.2 4.0h-4.4z"/><path d="M428.5 715.3l2.2 4.0h-4.4z"/><path d="M429.7 716.6l2.2 4.0h-4.4z"/><path d="M430.8 717.1l2.2 4.0h-4.4z"/><path d="M432.3 716.1l2.2 4.0h-4.4z"/><path d="M433.9 716.5l2.2 4.0h-4.4z"/><path d="M435.0 715.6l2.2 4.0h-4.4z"/><path d="M436.6 715.7l2.2 4.0h-4.4z"/><path d="M438.5 714.9l2.2 4.0h-4.4z"/><path d="M439.9 715.0l2.2 4.0h-4.4z"/><path d="M441.0 714.5l2.2 4.0h-4.4z"/><path d="M442.5 715.9l2.2 4.0h-4.4z"/><path d="M444.2 715.4l2.2 4.0h-4.4z"/><path d="M445.5 714.2l2.2 4.0h-4.4z"/><path d="M447.0 714.7l2.2 4.0h-4.4z"/><path d="M448.8 714.9l2.2 4.0h-4.4z"/><path d="M449.8 714.8l2.2 4.0h-4.4z"/><path d="M452.2 714.4l2.2 4.0h-4.4z"/><path d="M452.9 713.9l2.2 4.0h-4.4z"/><path d="M454.4 713.6l2.2 4.0h-4.4z"/><path d="M456.8 714.6l2.2 4.0h-4.4z"/><path d="M458.1 715.5l2.2 4.0h-4.4z"/><path d="M459.8 715.6l2.2 4.0h-4.4z"/><path d="M461.1 716.1l2.2 4.0h-4.4z"/><path d="M462.7 716.5l2.2 4.0h-4.4z"/><path d="M464.2 716.2l2.2 4.0h-4.4z"/><path d="M465.6 716.7l2.2 4.0h-4.4z"/><path d="M467.1 715.8l2.2 4.0h-4.4z"/><path d="M468.0 715.6l2.2 4.0h-4.4z"/><path d="M470.0 717.5l2.2 4.0h-4.4z"/><path d="M471.3 716.2l2.2 4.0h-4.4z"/><path d="M472.9 717.1l2.2 4.0h-4.4z"/><path d="M474.0 715.9l2.2 4.0h-4.4z"/><path d="M475.2 716.2l2.2 4.0h-4.4z"/><path d="M103.8 861.0l2.2 4.0h-4.4z"/><path d="M105.5 865.1l2.2 4.0h-4.4z"/><path d="M102.2 868.3l2.2 4.0h-4.4z"/><path d="M107.1 870.0l2.2 4.0h-4.4z"/><path d="M109.5 874.9l2.2 4.0h-4.4z"/><path d="M108.7 876.6l2.2 4.0h-4.4z"/><path d="M111.2 879.6l2.2 4.0h-4.4z"/><path d="M112.8 883.1l2.2 4.0h-4.4z"/><path d="M115.3 883.1l2.2 4.0h-4.4z"/><path d="M113.6 886.3l2.2 4.0h-4.4z"/><path d="M117.4 892.6l2.2 4.0h-4.4z"/><path d="M101.4 884.4l2.2 4.0h-4.4z"/><path d="M98.1 889.6l2.2 4.0h-4.4z"/><path d="M99.4 893.6l2.2 4.0h-4.4z"/><path d="M129.2 858.6l2.2 4.0h-4.4z"/><path d="M132.5 858.8l2.2 4.0h-4.4z"/><path d="M134.9 860.6l2.2 4.0h-4.4z"/><path d="M130.8 865.9l2.2 4.0h-4.4z"/><path d="M127.5 870.8l2.2 4.0h-4.4z"/><path d="M136.5 870.8l2.2 4.0h-4.4z"/><path d="M125.0 884.6l2.2 4.0h-4.4z"/><path d="M123.5 907.1l2.2 4.0h-4.4z"/><path d="M120.2 909.1l2.2 4.0h-4.4z"/><path d="M121.8 913.6l2.2 4.0h-4.4z"/><path d="M118.5 924.6l2.2 4.0h-4.4z"/><path d="M122.6 907.3l2.2 4.0h-4.4z"/><path d="M139.0 883.9l2.2 4.0h-4.4z"/><path d="M139.0 886.3l2.2 4.0h-4.4z"/><path d="M141.5 891.2l2.2 4.0h-4.4z"/><path d="M144.7 889.6l2.2 4.0h-4.4z"/><path d="M143.0 892.1l2.2 4.0h-4.4z"/><path d="M147.2 877.3l2.2 4.0h-4.4z"/><path d="M150.5 879.0l2.2 4.0h-4.4z"/><path d="M152.0 870.0l2.2 4.0h-4.4z"/><path d="M152.9 867.6l2.2 4.0h-4.4z"/><path d="M153.7 860.1l2.2 4.0h-4.4z"/><path d="M156.2 864.2l2.2 4.0h-4.4z"/><path d="M158.6 870.8l2.2 4.0h-4.4z"/><path d="M161.0 852.6l2.2 4.0h-4.4z"/><path d="M165.0 851.1l2.2 4.0h-4.4z"/><path d="M162.7 856.9l2.2 4.0h-4.4z"/><path d="M168.5 839.6l2.2 4.0h-4.4z"/><path d="M171.0 843.6l2.2 4.0h-4.4z"/><path d="M173.4 847.6l2.2 4.0h-4.4z"/><path d="M399.9 734.9l2.2 4.0h-4.4z"/><path d="M383.8 743.1l2.2 4.0h-4.4z"/><path d="M151.6 869.4l2.2 4.0h-4.4z"/><path d="M155.0 862.9l2.2 4.0h-4.4z"/><path d="M158.2 870.2l2.2 4.0h-4.4z"/><path d="M161.5 854.6l2.2 4.0h-4.4z"/><path d="M165.5 850.6l2.2 4.0h-4.4z"/><path d="M168.8 840.0l2.2 4.0h-4.4z"/><path d="M172.0 846.6l2.2 4.0h-4.4z"/><path d="M174.5 849.8l2.2 4.0h-4.4z"/><path d="M178.6 843.2l2.2 4.0h-4.4z"/><path d="M180.3 835.9l2.2 4.0h-4.4z"/><path d="M156.0 865.6l2.2 4.0h-4.4z"/><path d="M163.0 852.6l2.2 4.0h-4.4z"/><path d="M170.0 843.6l2.2 4.0h-4.4z"/><path d="M176.0 846.6l2.2 4.0h-4.4z"/><path d="M179.0 839.6l2.2 4.0h-4.4z"/><path d="M181.0 831.6l2.2 4.0h-4.4z"/></g>

<!-- legend -->
<rect x="429.5" y="593.5" width="70.5" height="61" fill="#fff" stroke="#333" stroke-width="1"/>
<rect x="448.3" y="601.5" width="2.6" height="2.6" fill="#000"/>
<circle cx="449.5" cy="623.8" r="1.3" fill="#f00"/>
<path d="M449.5 642.2l1.9 3.3h-3.8z" fill="#00f"/>
<g class="sans" font-size="16.6" fill="#1a1a1a">
  <text x="474.6" y="609.2" textLength="22" lengthAdjust="spacingAndGlyphs">I(1)</text>
  <text x="474.6" y="630.2" textLength="22" lengthAdjust="spacingAndGlyphs">I(2)</text>
  <text x="474.6" y="650.7" textLength="22" lengthAdjust="spacingAndGlyphs">I(3)</text>
</g>
</svg>
</body></html>
